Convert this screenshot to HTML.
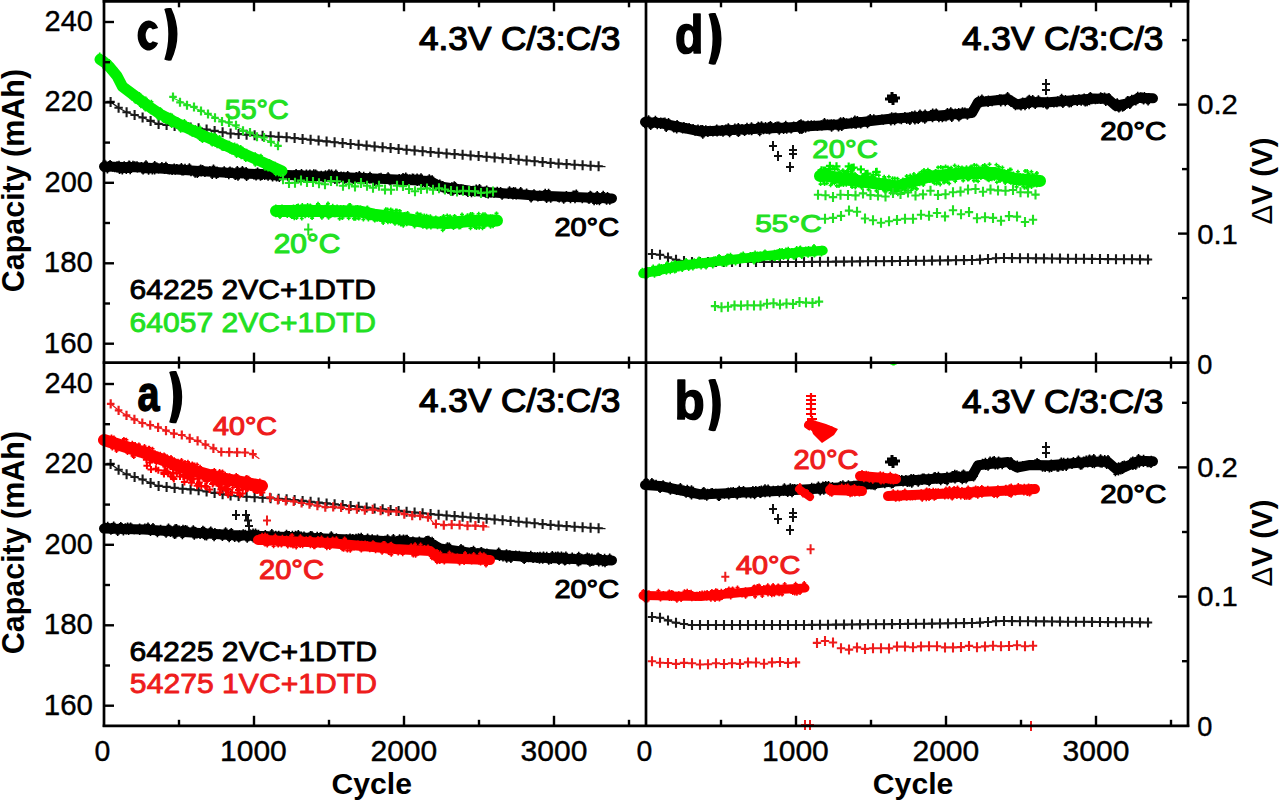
<!DOCTYPE html>
<html><head><meta charset="utf-8"><style>
html,body{margin:0;padding:0;background:#fff;width:1280px;height:801px;overflow:hidden}
svg{display:block}
text{font-family:"Liberation Sans", sans-serif;font-kerning:none}
</style></head><body>
<svg width="1280" height="801" viewBox="0 0 1280 801">
<rect width="1280" height="801" fill="#fff"/>
<polyline points="104,166.5 144,167.5 231,173 275,174.6 362,178 430,181 440,186.5 470,190.7 535,195.5 612,198.4" fill="none" stroke="#000" stroke-width="10" stroke-linejoin="round" stroke-linecap="round" />
<path d="M102.5 161.4h4M104.5 159.4v4M101.9 170.7h4M103.9 168.7v4M107.1 163.5h4M109.1 161.5v4M105.4 171.5h4M107.4 169.5v4M108.1 161.9h4M110.1 159.9v4M110.9 169.8h4M112.9 167.8v4M112.8 170.3h4M114.8 168.3v4M115.1 163.3h4M117.1 161.3v4M114.7 170.4h4M116.7 168.4v4M117 162.7h4M119 160.7v4M117.5 172h4M119.5 170v4M120.3 172.4h4M122.3 170.4v4M122.2 163.2h4M124.2 161.2v4M124.3 172.1h4M126.3 170.1v4M127 162.6h4M129 160.6v4M127.5 162.7h4M129.5 160.7v4M128.2 172.2h4M130.2 170.2v4M131 162.8h4M133 160.8v4M132.8 163.2h4M134.8 161.2v4M135 163.3h4M137 161.3v4M135.4 170.4h4M137.4 168.4v4M139.4 164h4M141.4 162v4M141.1 172.6h4M143.1 170.6v4M144 162.2h4M146 160.2v4M143.9 171.3h4M145.9 169.3v4M146.6 172.7h4M148.6 170.7v4M150.3 172.4h4M152.3 170.4v4M152.7 163h4M154.7 161v4M152.6 172.4h4M154.6 170.4v4M154.9 164.4h4M156.9 162.4v4M156.5 171.5h4M158.5 169.5v4M159.9 164.1h4M161.9 162.1v4M163.9 163.8h4M165.9 161.8v4M162.6 171.9h4M164.6 169.9v4M166 172.3h4M168 170.3v4M167.3 166h4M169.3 164v4M167.5 172.6h4M169.5 170.6v4M170.1 173.1h4M172.1 171.1v4M172.2 165.5h4M174.2 163.5v4M173.2 172.7h4M175.2 170.7v4M174.8 166h4M176.8 164v4M176.1 166.7h4M178.1 164.7v4M179.4 165.1h4M181.4 163.1v4M180 173.4h4M182 171.4v4M181.5 173.5h4M183.5 171.5v4M183 165.7h4M185 163.7v4M186.5 166.5h4M188.5 164.5v4M187.4 165.2h4M189.4 163.2v4M189 174.2h4M191 172.2v4M193.1 175.7h4M195.1 173.7v4M195.3 176h4M197.3 174v4M196.3 174.9h4M198.3 172.9v4M198.7 166.4h4M200.7 164.4v4M199.1 174.4h4M201.1 172.4v4M200.7 167h4M202.7 165v4M202.9 174.9h4M204.9 172.9v4M207.9 168.1h4M209.9 166.1v4M210.2 177h4M212.2 175v4M211.5 166.5h4M213.5 164.5v4M215 168.6h4M217 166.6v4M214.4 177h4M216.4 175v4M216 176.1h4M218 174.1v4M222.2 168.2h4M224.2 166.2v4M223.7 175.8h4M225.7 173.8v4M228 168.4h4M230 166.4v4M226.8 177.3h4M228.8 175.3v4M230.4 169.4h4M232.4 167.4v4M232.4 176.8h4M234.4 174.8v4M233.2 177.9h4M235.2 175.9v4M235.3 168h4M237.3 166v4M236 178.7h4M238 176.7v4M237.9 169.9h4M239.9 167.9v4M240.4 168.1h4M242.4 166.1v4M242.8 177.1h4M244.8 175.1v4M244.1 169h4M246.1 167v4M244.6 179h4M246.6 177v4M246.3 177.4h4M248.3 175.4v4M251.8 177.4h4M253.8 175.4v4M254.1 178.6h4M256.1 176.6v4M255.6 169.6h4M257.6 167.6v4M255.6 177.2h4M257.6 175.2v4M258.5 178.7h4M260.5 176.7v4M260.1 177.9h4M262.1 175.9v4M263.4 169.1h4M265.4 167.1v4M262.7 178.1h4M264.7 176.1v4M266.5 171.3h4M268.5 169.3v4M266.1 178.8h4M268.1 176.8v4M268.8 169.9h4M270.8 167.9v4M270.7 169.4h4M272.7 167.4v4M270.6 179.5h4M272.6 177.5v4M274.6 179.6h4M276.6 177.6v4M275.8 178h4M277.8 176v4M277.3 180h4M279.3 178v4M281 178.7h4M283 176.7v4M286.1 179.2h4M288.1 177.2v4M292.1 172.2h4M294.1 170.2v4M294.1 171h4M296.1 169v4M293.1 179.4h4M295.1 177.4v4M295.9 172.4h4M297.9 170.4v4M294.7 179.9h4M296.7 177.9v4M297.1 172.2h4M299.1 170.2v4M297.6 180.6h4M299.6 178.6v4M299.5 171.1h4M301.5 169.1v4M300 180h4M302 178v4M302.7 180.5h4M304.7 178.5v4M304.4 171.6h4M306.4 169.6v4M304.5 179.9h4M306.5 177.9v4M307.9 171.4h4M309.9 169.4v4M309.6 180.3h4M311.6 178.3v4M311.8 171.2h4M313.8 169.2v4M311.7 180.8h4M313.7 178.8v4M313.7 171.4h4M315.7 169.4v4M319.2 172.8h4M321.2 170.8v4M322.4 181.2h4M324.4 179.2v4M323.5 172.3h4M325.5 170.3v4M327 171.2h4M329 169.2v4M329.5 171.5h4M331.5 169.5v4M329.3 181.7h4M331.3 179.7v4M333.9 171.6h4M335.9 169.6v4M332.9 182h4M334.9 180v4M334.5 173.2h4M336.5 171.2v4M337.2 181.6h4M339.2 179.6v4M339.1 173.5h4M341.1 171.5v4M341.7 173.8h4M343.7 171.8v4M342 181.9h4M344 179.9v4M344.1 181.1h4M346.1 179.1v4M345.7 173h4M347.7 171v4M351.3 181.9h4M353.3 179.9v4M354.2 174.1h4M356.2 172.1v4M357.3 173h4M359.3 171v4M361.7 173.8h4M363.7 171.8v4M361.3 182.3h4M363.3 180.3v4M363.7 175.2h4M365.7 173.2v4M363.6 181.9h4M365.6 179.9v4M368 173.7h4M370 171.7v4M367.8 181.4h4M369.8 179.4v4M372.5 184h4M374.5 182v4M375.8 183.5h4M377.8 181.5v4M377.2 175.3h4M379.2 173.3v4M376 182.6h4M378 180.6v4M379 174.8h4M381 172.8v4M386.1 174.3h4M388.1 172.3v4M388.3 183.8h4M390.3 181.8v4M397.2 176h4M399.2 174v4M399.7 176.3h4M401.7 174.3v4M398.1 183.9h4M400.1 181.9v4M401 175h4M403 173v4M400.2 184.5h4M402.2 182.5v4M403.8 174.5h4M405.8 172.5v4M403.6 184.6h4M405.6 182.6v4M406.4 176.5h4M408.4 174.5v4M406.3 183.2h4M408.3 181.2v4M407.8 176.2h4M409.8 174.2v4M410.4 175.6h4M412.4 173.6v4M411.7 175.8h4M413.7 173.8v4M415.1 175.4h4M417.1 173.4v4M415.3 184h4M417.3 182v4M419 175.3h4M421 173.3v4M419.3 184.7h4M421.3 182.7v4M420.3 185.3h4M422.3 183.3v4M423.7 186.1h4M425.7 184.1v4M424.7 185.2h4M426.7 183.2v4M427.3 176.2h4M429.3 174.2v4M430.2 177.2h4M432.2 175.2v4M429.6 185.3h4M431.6 183.3v4M431.4 180h4M433.4 178v4M432.8 187.7h4M434.8 185.7v4M434.6 181.3h4M436.6 179.3v4M437.8 181.5h4M439.8 179.5v4M440.8 182.9h4M442.8 180.9v4M440.3 190.3h4M442.3 188.3v4M442.4 191.6h4M444.4 189.6v4M446 192h4M448 190v4M448.1 192.8h4M450.1 190.8v4M449.8 184.2h4M451.8 182.2v4M452.3 183.2h4M454.3 181.2v4M450.8 193.7h4M452.8 191.7v4M453.1 184.1h4M455.1 182.1v4M453.9 192.1h4M455.9 190.1v4M459.1 186.2h4M461.1 184.2v4M457.6 193h4M459.6 191v4M460.9 186.6h4M462.9 184.6v4M465.9 194.9h4M467.9 192.9v4M468.1 193.7h4M470.1 191.7v4M469.5 195.3h4M471.5 193.3v4M471.3 187.8h4M473.3 185.8v4M472.4 194.5h4M474.4 192.5v4M474.2 186.5h4M476.2 184.5v4M477.5 186h4M479.5 184v4M483.2 188.6h4M485.2 186.6v4M483.6 195.7h4M485.6 193.7v4M484.7 187.6h4M486.7 185.6v4M485.2 195.9h4M487.2 193.9v4M486.2 196.4h4M488.2 194.4v4M489 195.4h4M491 193.4v4M492 195.8h4M494 193.8v4M495.3 188.7h4M497.3 186.7v4M498.6 189.1h4M500.6 187.1v4M500.1 197.7h4M502.1 195.7v4M507.5 188.3h4M509.5 186.3v4M506.5 197h4M508.5 195v4M508.7 190.5h4M510.7 188.5v4M511.5 188.9h4M513.5 186.9v4M510.9 197.6h4M512.9 195.6v4M513.4 189.2h4M515.4 187.2v4M514.2 197.4h4M516.2 195.4v4M514.7 190.4h4M516.7 188.4v4M518.7 189.1h4M520.7 187.1v4M524.6 190.6h4M526.6 188.6v4M529.1 200.5h4M531.1 198.5v4M532 191.2h4M534 189.2v4M530.3 198.8h4M532.3 196.8v4M535.9 199.6h4M537.9 197.6v4M537.7 192.4h4M539.7 190.4v4M537.1 198.9h4M539.1 196.9v4M538.9 199h4M540.9 197v4M543.2 190.8h4M545.2 188.8v4M544.6 201h4M546.6 199v4M546.6 190.8h4M548.6 188.8v4M548.7 200.8h4M550.7 198.8v4M555.7 199.8h4M557.7 197.8v4M557.2 200.6h4M559.2 198.6v4M561.7 201.7h4M563.7 199.7v4M564.4 192.9h4M566.4 190.9v4M563.6 200h4M565.6 198v4M568.5 201.3h4M570.5 199.3v4M571.2 192.6h4M573.2 190.6v4M572.4 192.4h4M574.4 190.4v4M573 201.3h4M575 199.3v4M574.3 191.6h4M576.3 189.6v4M580.3 201.3h4M582.3 199.3v4M586.6 201.7h4M588.6 199.7v4M588.2 192.7h4M590.2 190.7v4M587.4 201.7h4M589.4 199.7v4M589.4 193.6h4M591.4 191.6v4M591.1 201.3h4M593.1 199.3v4M592.1 203.2h4M594.1 201.2v4M595.2 193h4M597.2 191v4M594.8 202.8h4M596.8 200.8v4M597.4 203.3h4M599.4 201.3v4M600.1 194.7h4M602.1 192.7v4M598.7 201.1h4M600.7 199.1v4M601.2 192.7h4M603.2 190.7v4M604.6 202.7h4M606.6 200.7v4M605.5 193.9h4M607.5 191.9v4M607.8 202.7h4M609.8 200.7v4" stroke="#000" stroke-width="1.6" fill="none"/>
<polyline points="110.6,101.9 119,108 127,112.5 142.5,117.5 157.5,123.8 175,126 200,128.3 228,133.3 255,135.3 289,137.5 370,146 435,152.5 501,158 556,163.4 605,166.7" fill="none" stroke="#1a1a1a" stroke-width="1.3" stroke-linejoin="round" stroke-linecap="round" />
<path d="M106.4 101.9h8.4M110.6 96.9v10M114.4 107.7h8.4M118.6 102.7v10M122.4 112.3h8.4M126.6 107.3v10M130.4 115h8.4M134.6 110v10M138.4 117.5h8.4M142.6 112.5v10M146.4 120.9h8.4M150.6 115.9v10M154.4 123.9h8.4M158.6 118.9v10M162.4 124.9h8.4M166.6 119.9v10M170.4 125.9h8.4M174.6 120.9v10M178.4 126.7h8.4M182.6 121.7v10M186.4 127.4h8.4M190.6 122.4v10M194.4 128.2h8.4M198.6 123.2v10M202.4 129.5h8.4M206.6 124.5v10M210.4 130.9h8.4M214.6 125.9v10M218.4 132.3h8.4M222.6 127.3v10M226.4 133.5h8.4M230.6 128.5v10M234.4 134.1h8.4M238.6 129.1v10M242.4 134.7h8.4M246.6 129.7v10M250.4 135.3h8.4M254.6 130.3v10M258.4 135.8h8.4M262.6 130.8v10M266.4 136.3h8.4M270.6 131.3v10M274.4 136.8h8.4M278.6 131.8v10M282.4 137.3h8.4M286.6 132.3v10M290.4 138.1h8.4M294.6 133.1v10M298.4 138.9h8.4M302.6 133.9v10M306.4 139.8h8.4M310.6 134.8v10M314.4 140.6h8.4M318.6 135.6v10M322.4 141.4h8.4M326.6 136.4v10M330.4 142.3h8.4M334.6 137.3v10M338.4 143.1h8.4M342.6 138.1v10M346.4 144h8.4M350.6 139v10M354.4 144.8h8.4M358.6 139.8v10M362.4 145.6h8.4M366.6 140.6v10M370.4 146.5h8.4M374.6 141.5v10M378.4 147.3h8.4M382.6 142.3v10M386.4 148.1h8.4M390.6 143.1v10M394.4 148.9h8.4M398.6 143.9v10M402.4 149.7h8.4M406.6 144.7v10M410.4 150.5h8.4M414.6 145.5v10M418.4 151.3h8.4M422.6 146.3v10M426.4 152.1h8.4M430.6 147.1v10M434.4 152.8h8.4M438.6 147.8v10M442.4 153.5h8.4M446.6 148.5v10M450.4 154.1h8.4M454.6 149.1v10M458.4 154.8h8.4M462.6 149.8v10M466.4 155.5h8.4M470.6 150.5v10M474.4 156.1h8.4M478.6 151.1v10M482.4 156.8h8.4M486.6 151.8v10M490.4 157.5h8.4M494.6 152.5v10M498.4 158.2h8.4M502.6 153.2v10M506.4 158.9h8.4M510.6 153.9v10M514.4 159.7h8.4M518.6 154.7v10M522.4 160.5h8.4M526.6 155.5v10M530.4 161.3h8.4M534.6 156.3v10M538.4 162.1h8.4M542.6 157.1v10M546.4 162.9h8.4M550.6 157.9v10M554.4 163.6h8.4M558.6 158.6v10M562.4 164.1h8.4M566.6 159.1v10M570.4 164.7h8.4M574.6 159.7v10M578.4 165.2h8.4M582.6 160.2v10M586.4 165.7h8.4M590.6 160.7v10M594.4 166.3h8.4M598.6 161.3v10" stroke="#1a1a1a" stroke-width="2.1" fill="none"/>
<polyline points="104,528.5 144,529.5 231,535 275,536.6 362,540 430,543 440,548.5 470,552.7 535,557.5 612,560.4" fill="none" stroke="#000" stroke-width="10" stroke-linejoin="round" stroke-linecap="round" />
<path d="M103.4 524.8h4M105.4 522.8v4M105.7 523.7h4M107.7 521.7v4M109.2 525.1h4M111.2 523.1v4M108.9 532.8h4M110.9 530.8v4M111.7 523.6h4M113.7 521.6v4M110.5 532.1h4M112.5 530.1v4M115.7 534h4M117.7 532v4M118.3 525.4h4M120.3 523.4v4M118.8 523.9h4M120.8 521.9v4M121.4 533.4h4M123.4 531.4v4M123.3 525.2h4M125.3 523.2v4M124.3 532.4h4M126.3 530.4v4M125.6 524.5h4M127.6 522.5v4M126.6 533.1h4M128.6 531.1v4M128.6 524.4h4M130.6 522.4v4M132.2 532.3h4M134.2 530.3v4M137.6 525.6h4M139.6 523.6v4M137.7 533h4M139.7 531v4M142.9 525.6h4M144.9 523.6v4M146 524.5h4M148 522.5v4M148.5 534.1h4M150.5 532.1v4M151 525h4M153 523v4M149.5 533.1h4M151.5 531.1v4M155.4 535.3h4M157.4 533.3v4M156.4 533.5h4M158.4 531.5v4M158.6 526.7h4M160.6 524.7v4M162.3 534.1h4M164.3 532.1v4M164.1 535.8h4M166.1 533.8v4M166.5 525.6h4M168.5 523.6v4M164.9 534.2h4M166.9 532.2v4M168.8 527.6h4M170.8 525.6v4M168.5 535.1h4M170.5 533.1v4M173.1 526.2h4M175.1 524.2v4M172.5 536.9h4M174.5 534.9v4M174.5 526.1h4M176.5 524.1v4M173.7 536.5h4M175.7 534.5v4M177.4 527.4h4M179.4 525.4v4M181 526.7h4M183 524.7v4M180.4 537.3h4M182.4 535.3v4M183.3 527.1h4M185.3 525.1v4M185 527.5h4M187 525.5v4M191.3 527.3h4M193.3 525.3v4M192.3 537.8h4M194.3 535.8v4M193.7 529.1h4M195.7 527.1v4M195 536.4h4M197 534.4v4M199.7 529.8h4M201.7 527.8v4M198.1 536.9h4M200.1 534.9v4M200.9 527.8h4M202.9 525.8v4M202.5 528.8h4M204.5 526.8v4M202.7 538.3h4M204.7 536.3v4M204.5 538.5h4M206.5 536.5v4M208 529.6h4M210 527.6v4M208.8 528.6h4M210.8 526.6v4M212.9 529.9h4M214.9 527.9v4M212.1 539.3h4M214.1 537.3v4M217.7 531.2h4M219.7 529.2v4M220.4 539h4M222.4 537v4M223.6 529.3h4M225.6 527.3v4M225.2 538h4M227.2 536v4M228.1 531.3h4M230.1 529.3v4M227.2 540.3h4M229.2 538.3v4M229.3 529.9h4M231.3 527.9v4M232.7 539.9h4M234.7 537.9v4M236.8 540.6h4M238.8 538.6v4M237.6 532.2h4M239.6 530.2v4M238.8 538.9h4M240.8 536.9v4M241.2 531.2h4M243.2 529.2v4M239.9 538.5h4M241.9 536.5v4M243.3 531.8h4M245.3 529.8v4M245.2 540.8h4M247.2 538.8v4M248.1 531.3h4M250.1 529.3v4M246.8 539.2h4M248.8 537.2v4M251.1 530.5h4M253.1 528.5v4M251.3 540.4h4M253.3 538.4v4M253.5 530.6h4M255.5 528.6v4M256.5 531.8h4M258.5 529.8v4M256.9 539.8h4M258.9 537.8v4M257.5 539.9h4M259.5 537.9v4M259.5 533h4M261.5 531v4M261.2 540.5h4M263.2 538.5v4M263.3 532h4M265.3 530v4M264.9 541.1h4M266.9 539.1v4M266.2 539.4h4M268.2 537.4v4M269.8 531h4M271.8 529v4M269.1 541.1h4M271.1 539.1v4M271.2 540.1h4M273.2 538.1v4M273.7 532.8h4M275.7 530.8v4M276.7 532.7h4M278.7 530.7v4M281.8 540.5h4M283.8 538.5v4M284.5 531.8h4M286.5 529.8v4M287.2 533h4M289.2 531v4M286.2 541.8h4M288.2 539.8v4M290.4 532.7h4M292.4 530.7v4M291.6 540.9h4M293.6 538.9v4M293.4 532.8h4M295.4 530.8v4M296.3 532.1h4M298.3 530.1v4M299.3 533.5h4M301.3 531.5v4M299.6 542.6h4M301.6 540.6v4M302 533.5h4M304 531.5v4M302.6 541.6h4M304.6 539.6v4M306.3 534.8h4M308.3 532.8v4M306.7 543h4M308.7 541v4M308.5 533.1h4M310.5 531.1v4M310.1 533.3h4M312.1 531.3v4M313.9 535.2h4M315.9 533.2v4M312.7 542.9h4M314.7 540.9v4M315.2 533.8h4M317.2 531.8v4M316.3 543h4M318.3 541v4M318.4 534h4M320.4 532v4M319 533.9h4M321 531.9v4M322.2 542.9h4M324.2 540.9v4M329.3 533.3h4M331.3 531.3v4M330.4 544.3h4M332.4 542.3v4M332.3 542.6h4M334.3 540.6v4M334.4 535.2h4M336.4 533.2v4M339.3 543.6h4M341.3 541.6v4M342.3 544.5h4M344.3 542.5v4M344.4 536.2h4M346.4 534.2v4M346 543.6h4M348 541.6v4M348 535.6h4M350 533.6v4M348.2 544.7h4M350.2 542.7v4M350.8 536h4M352.8 534v4M352.8 543.4h4M354.8 541.4v4M354 535.8h4M356 533.8v4M355.2 544.5h4M357.2 542.5v4M356.5 535.2h4M358.5 533.2v4M359.2 534.7h4M361.2 532.7v4M358.6 545.1h4M360.6 543.1v4M360.8 543.7h4M362.8 541.7v4M365.6 535.6h4M367.6 533.6v4M368 543.8h4M370 541.8v4M370.2 536.2h4M372.2 534.2v4M370.1 544.3h4M372.1 542.3v4M372.8 537.4h4M374.8 535.4v4M375.4 536.5h4M377.4 534.5v4M374.2 544h4M376.2 542v4M380 545.6h4M382 543.6v4M382.7 537.7h4M384.7 535.7v4M385.6 536.3h4M387.6 534.3v4M385.5 544.9h4M387.5 542.9v4M388.1 546.1h4M390.1 544.1v4M390.1 544.6h4M392.1 542.6v4M391.4 536h4M393.4 534v4M394.9 538h4M396.9 536v4M395.2 545.3h4M397.2 543.3v4M397.6 536.2h4M399.6 534.2v4M397.7 546.3h4M399.7 544.3v4M401.5 536.4h4M403.5 534.4v4M404.2 536.7h4M406.2 534.7v4M402.4 547h4M404.4 545v4M405.2 536.8h4M407.2 534.8v4M405.4 545h4M407.4 543v4M410.9 538.4h4M412.9 536.4v4M411.8 547.4h4M413.8 545.4v4M417.3 538.6h4M419.3 536.6v4M417 546.8h4M419 544.8v4M419.3 546.6h4M421.3 544.6v4M421.8 547.5h4M423.8 545.5v4M424.1 538h4M426.1 536v4M425.7 537.7h4M427.7 535.7v4M425.3 546.4h4M427.3 544.4v4M426.9 537.8h4M428.9 535.8v4M430.1 538.8h4M432.1 536.8v4M429 547.4h4M431 545.4v4M431.2 540.6h4M433.2 538.6v4M432 549.5h4M434 547.5v4M433.5 542h4M435.5 540v4M434.9 551.8h4M436.9 549.8v4M441 552.5h4M443 550.5v4M445.4 544.3h4M447.4 542.3v4M447.3 544.6h4M449.3 542.6v4M450.3 554.1h4M452.3 552.1v4M455.7 556.1h4M457.7 554.1v4M459 546h4M461 544v4M459.1 556.4h4M461.1 554.4v4M461.3 547.6h4M463.3 545.6v4M467.6 558h4M469.6 556v4M469 548.9h4M471 546.9v4M469.2 557.7h4M471.2 555.7v4M471.5 547.7h4M473.5 545.7v4M472.1 556.7h4M474.1 554.7v4M475.9 550.2h4M477.9 548.2v4M478.6 549.4h4M480.6 547.4v4M479.1 556.7h4M481.1 554.7v4M479.5 549h4M481.5 547v4M480 557.3h4M482 555.3v4M481.8 550.4h4M483.8 548.4v4M482.6 557.5h4M484.6 555.5v4M484.9 550.4h4M486.9 548.4v4M488.4 558.4h4M490.4 556.4v4M496.7 549.5h4M498.7 547.5v4M497.1 551.3h4M499.1 549.3v4M497.5 559.1h4M499.5 557.1v4M501 559.4h4M503 557.4v4M504.5 551.2h4M506.5 549.2v4M504.7 560.8h4M506.7 558.8v4M507.5 552.3h4M509.5 550.3v4M506.1 559.5h4M508.1 557.5v4M508.1 552.4h4M510.1 550.4v4M508.9 561h4M510.9 559v4M513.7 552.4h4M515.7 550.4v4M517.3 552.8h4M519.3 550.8v4M519.6 560.1h4M521.6 558.1v4M522.2 562.1h4M524.2 560.1v4M523.6 553.8h4M525.6 551.8v4M524.6 560h4M526.6 558v4M526.4 560.3h4M528.4 558.3v4M528.8 552.8h4M530.8 550.8v4M531.1 561.1h4M533.1 559.1v4M532.9 554.3h4M534.9 552.3v4M535.5 553.9h4M537.5 551.9v4M535 561h4M537 559v4M538 553.7h4M540 551.7v4M537.5 561.7h4M539.5 559.7v4M540.7 561.8h4M542.7 559.8v4M541.5 553.6h4M543.5 551.6v4M544.8 553.8h4M546.8 551.8v4M546.8 562.7h4M548.8 560.7v4M549.3 561.9h4M551.3 559.9v4M550.3 553.1h4M552.3 551.1v4M553.6 553.7h4M555.6 551.7v4M555.9 553.4h4M557.9 551.4v4M556.2 561.9h4M558.2 559.9v4M557 563h4M559 561v4M559.4 553.5h4M561.4 551.5v4M561.4 554.4h4M563.4 552.4v4M562.8 563.6h4M564.8 561.6v4M563.9 553.5h4M565.9 551.5v4M563.4 563.1h4M565.4 561.1v4M566.1 562h4M568.1 560v4M567.5 562.4h4M569.5 560.4v4M570.2 554.5h4M572.2 552.5v4M572.1 555.8h4M574.1 553.8v4M575.5 555.5h4M577.5 553.5v4M576.7 553.8h4M578.7 551.8v4M576.4 564.6h4M578.4 562.6v4M579.6 555.8h4M581.6 553.8v4M578.7 563.2h4M580.7 561.2v4M583 556.2h4M585 554.2v4M585.3 554.6h4M587.3 552.6v4M585.9 563h4M587.9 561v4M587.3 555.2h4M589.3 553.2v4M588 564.8h4M590 562.8v4M589.9 555.6h4M591.9 553.6v4M589.8 564.1h4M591.8 562.1v4M592.8 556.7h4M594.8 554.7v4M591.6 563.8h4M593.6 561.8v4M596.1 554.4h4M598.1 552.4v4M596.8 564.5h4M598.8 562.5v4M598.9 556.1h4M600.9 554.1v4M600.6 564.5h4M602.6 562.5v4M602.6 555.8h4M604.6 553.8v4M603 565.2h4M605 563.2v4M605.2 563.6h4M607.2 561.6v4M607.7 555.5h4M609.7 553.5v4" stroke="#000" stroke-width="1.6" fill="none"/>
<polyline points="110.6,463.9 119,470 127,474.5 142.5,479.5 157.5,485.8 175,488 200,490.3 228,495.3 255,497.3 289,499.5 370,508 435,514.5 501,520 556,525.4 605,528.7" fill="none" stroke="#1a1a1a" stroke-width="1.3" stroke-linejoin="round" stroke-linecap="round" />
<path d="M106.4 463.9h8.4M110.6 458.9v10M114.4 469.7h8.4M118.6 464.7v10M122.4 474.3h8.4M126.6 469.3v10M130.4 477h8.4M134.6 472v10M138.4 479.5h8.4M142.6 474.5v10M146.4 482.9h8.4M150.6 477.9v10M154.4 485.9h8.4M158.6 480.9v10M162.4 486.9h8.4M166.6 481.9v10M170.4 487.9h8.4M174.6 482.9v10M178.4 488.7h8.4M182.6 483.7v10M186.4 489.4h8.4M190.6 484.4v10M194.4 490.2h8.4M198.6 485.2v10M202.4 491.5h8.4M206.6 486.5v10M210.4 492.9h8.4M214.6 487.9v10M218.4 494.3h8.4M222.6 489.3v10M226.4 495.5h8.4M230.6 490.5v10M234.4 496.1h8.4M238.6 491.1v10M242.4 496.7h8.4M246.6 491.7v10M250.4 497.3h8.4M254.6 492.3v10M258.4 497.8h8.4M262.6 492.8v10M266.4 498.3h8.4M270.6 493.3v10M274.4 498.8h8.4M278.6 493.8v10M282.4 499.3h8.4M286.6 494.3v10M290.4 500.1h8.4M294.6 495.1v10M298.4 500.9h8.4M302.6 495.9v10M306.4 501.8h8.4M310.6 496.8v10M314.4 502.6h8.4M318.6 497.6v10M322.4 503.4h8.4M326.6 498.4v10M330.4 504.3h8.4M334.6 499.3v10M338.4 505.1h8.4M342.6 500.1v10M346.4 506h8.4M350.6 501v10M354.4 506.8h8.4M358.6 501.8v10M362.4 507.6h8.4M366.6 502.6v10M370.4 508.5h8.4M374.6 503.5v10M378.4 509.3h8.4M382.6 504.3v10M386.4 510.1h8.4M390.6 505.1v10M394.4 510.9h8.4M398.6 505.9v10M402.4 511.7h8.4M406.6 506.7v10M410.4 512.5h8.4M414.6 507.5v10M418.4 513.3h8.4M422.6 508.3v10M426.4 514.1h8.4M430.6 509.1v10M434.4 514.8h8.4M438.6 509.8v10M442.4 515.5h8.4M446.6 510.5v10M450.4 516.1h8.4M454.6 511.1v10M458.4 516.8h8.4M462.6 511.8v10M466.4 517.5h8.4M470.6 512.5v10M474.4 518.1h8.4M478.6 513.1v10M482.4 518.8h8.4M486.6 513.8v10M490.4 519.5h8.4M494.6 514.5v10M498.4 520.2h8.4M502.6 515.2v10M506.4 520.9h8.4M510.6 515.9v10M514.4 521.7h8.4M518.6 516.7v10M522.4 522.5h8.4M526.6 517.5v10M530.4 523.3h8.4M534.6 518.3v10M538.4 524.1h8.4M542.6 519.1v10M546.4 524.9h8.4M550.6 519.9v10M554.4 525.6h8.4M558.6 520.6v10M562.4 526.1h8.4M566.6 521.1v10M570.4 526.7h8.4M574.6 521.7v10M578.4 527.2h8.4M582.6 522.2v10M586.4 527.7h8.4M590.6 522.7v10M594.4 528.3h8.4M598.6 523.3v10" stroke="#1a1a1a" stroke-width="2.1" fill="none"/>
<polyline points="100,59.5 106,63.5 110,67.5 117,76 122.5,86.6 135,96 147.5,105.5 160,114 180,124.5 200,134 220,143 240,152 260,161 282,171" fill="none" stroke="#00f000" stroke-width="11" stroke-linejoin="round" stroke-linecap="round" />
<path d="M97.7 54.6h4M99.7 52.6v4M100.9 64.5h4M102.9 62.5v4M103.4 58.3h4M105.4 56.3v4M102.4 68h4M104.4 66v4M105.3 69.2h4M107.3 67.2v4M107.1 60.9h4M109.1 58.9v4M107 71.7h4M109 69.7v4M109.7 65.1h4M111.7 63.1v4M109.8 74h4M111.8 72v4M113.3 68.6h4M115.3 66.6v4M115 81h4M117 79v4M117.4 86.5h4M119.4 84.5v4M119.7 81.2h4M121.7 79.2v4M129.7 98.5h4M131.7 96.5v4M133.3 101.7h4M135.3 99.7v4M136.1 94.2h4M138.1 92.2v4M137.4 94h4M139.4 92v4M138.1 103.7h4M140.1 101.7v4M138.9 106.2h4M140.9 104.2v4M143 108.5h4M145 106.5v4M143.8 98.5h4M145.8 96.5v4M143.3 109.5h4M145.3 107.5v4M146.6 101.6h4M148.6 99.6v4M147.1 109.7h4M149.1 107.7v4M149.4 101.7h4M151.4 99.7v4M148.6 112.3h4M150.6 110.3v4M155.6 116.7h4M157.6 114.7v4M158.4 109.3h4M160.4 107.3v4M156.4 118.5h4M158.4 116.5v4M158.6 109.9h4M160.6 107.9v4M161.7 121.1h4M163.7 119.1v4M164.5 122.4h4M166.5 120.4v4M166.6 114.7h4M168.6 112.7v4M168.6 114.8h4M170.6 112.8v4M168 123.9h4M170 121.9v4M170.2 115.6h4M172.2 113.6v4M169.7 126h4M171.7 124v4M175.6 118.9h4M177.6 116.9v4M174.9 126.9h4M176.9 124.9v4M176.9 128.4h4M178.9 126.4v4M178.7 130.8h4M180.7 128.8v4M182.4 121.1h4M184.4 119.1v4M180.8 130.3h4M182.8 128.3v4M184.4 123.3h4M186.4 121.3v4M186.6 124.1h4M188.6 122.1v4M187.8 133.2h4M189.8 131.2v4M190.2 134.8h4M192.2 132.8v4M193.4 126.9h4M195.4 124.9v4M193.5 134.9h4M195.5 132.9v4M197.9 127.6h4M199.9 125.6v4M197.7 138.9h4M199.7 136.9v4M198.9 138.8h4M200.9 136.8v4M201.6 131.9h4M203.6 129.9v4M200.5 141.1h4M202.5 139.1v4M209.5 134.1h4M211.5 132.1v4M210.2 144.6h4M212.2 142.6v4M212.6 134.6h4M214.6 132.6v4M213.1 144.6h4M215.1 142.6v4M214.3 136h4M216.3 134v4M215.2 146.3h4M217.2 144.3v4M217.6 137h4M219.6 135v4M219.7 148.5h4M221.7 146.5v4M220.7 140.3h4M222.7 138.3v4M221.1 149h4M223.1 147v4M222.7 149.1h4M224.7 147.1v4M226.5 142.7h4M228.5 140.7v4M227.4 142.7h4M229.4 140.7v4M228.1 151.8h4M230.1 149.8v4M229.7 152.4h4M231.7 150.4v4M232.6 144.5h4M234.6 142.5v4M231.6 153.1h4M233.6 151.1v4M235 145.4h4M237 143.4v4M234.6 155.9h4M236.6 153.9v4M236.6 146.9h4M238.6 144.9v4M238.7 147.1h4M240.7 145.1v4M239.2 157.2h4M241.2 155.2v4M240.9 148.8h4M242.9 146.8v4M243.8 160.1h4M245.8 158.1v4M244.6 150.7h4M246.6 148.7v4M253.2 154.3h4M255.2 152.3v4M253.3 164.7h4M255.3 162.7v4M257.2 156.5h4M259.2 154.5v4M257.1 163.8h4M259.1 161.8v4M258.9 155.7h4M260.9 153.7v4M263 168.7h4M265 166.7v4M266.1 169.6h4M268.1 167.6v4M267.5 161h4M269.5 159v4M269.1 162.3h4M271.1 160.3v4M271.6 171.7h4M273.6 169.7v4M273.2 163.7h4M275.2 161.7v4M273.8 174.2h4M275.8 172.2v4M276.7 174.5h4M278.7 172.5v4M278.7 175h4M280.7 173v4" stroke="#00f000" stroke-width="1.6" fill="none"/>
<polyline points="173,98 223,121 280,146" fill="none" stroke="#22e022" stroke-width="1.2" stroke-linejoin="round" stroke-linecap="round" />
<path d="M169.2 96.9h7.6M173 92.4v9M176.2 102.3h7.6M180 97.8v9M183.2 105.2h7.6M187 100.7v9M190.2 106.9h7.6M194 102.4v9M197.2 110.9h7.6M201 106.4v9M204.2 113.9h7.6M208 109.4v9M211.2 117.8h7.6M215 113.3v9M218.2 121.4h7.6M222 116.9v9M225.2 122.4h7.6M229 117.9v9M232.2 125.3h7.6M236 120.8v9M239.2 130.8h7.6M243 126.3v9M246.2 132.6h7.6M250 128.1v9M253.2 136.7h7.6M257 132.2v9M260.2 137.5h7.6M264 133v9M267.2 141.9h7.6M271 137.4v9M274.2 145.8h7.6M278 141.3v9" stroke="#22e022" stroke-width="2.2" fill="none"/>
<path d="M304 229.5h8.6M308.3 223.5v12" stroke="#22e022" stroke-width="2.0" fill="none"/>
<path d="M278.8 179.2h8.4M283 174.2v10M284.8 183h8.4M289 178v10M290.8 182.8h8.4M295 177.8v10M296.8 180.5h8.4M301 175.5v10M302.8 182h8.4M307 177v10M308.8 182h8.4M313 177v10M314.8 183.3h8.4M319 178.3v10M320.8 184.2h8.4M325 179.2v10M326.8 181.1h8.4M331 176.1v10M332.8 181.2h8.4M337 176.2v10M338.8 185.8h8.4M343 180.8v10M344.8 184.2h8.4M349 179.2v10M350.8 186.4h8.4M355 181.4v10M356.8 183.1h8.4M361 178.1v10M362.8 185.8h8.4M367 180.8v10M368.8 187.7h8.4M373 182.7v10M374.8 185.7h8.4M379 180.7v10M380.8 189.6h8.4M385 184.6v10M386.8 189.8h8.4M391 184.8v10M392.8 185.7h8.4M397 180.7v10M398.8 186.1h8.4M403 181.1v10M404.8 189h8.4M409 184v10M410.8 191.3h8.4M415 186.3v10M416.8 188.9h8.4M421 183.9v10M422.8 188.4h8.4M427 183.4v10M428.8 189.8h8.4M433 184.8v10M434.8 188.2h8.4M439 183.2v10M440.8 189.5h8.4M445 184.5v10M446.8 191h8.4M451 186v10M452.8 191.6h8.4M457 186.6v10M458.8 190.7h8.4M463 185.7v10M464.8 191.1h8.4M469 186.1v10M470.8 191.4h8.4M475 186.4v10M476.8 192.9h8.4M481 187.9v10M482.8 192.5h8.4M487 187.5v10M488.8 191.5h8.4M493 186.5v10" stroke="#22e022" stroke-width="2.1" fill="none"/>
<polyline points="276,211 319,211 360,211.5 374,214.6 400,218 425,222 447,223 470,221 497,220.5" fill="none" stroke="#00f000" stroke-width="12" stroke-linejoin="round" stroke-linecap="round" />
<path d="M273.8 206.6h4M275.8 204.6v4M273.8 215.2h4M275.8 213.2v4M278 216.9h4M280 214.9v4M280 206.6h4M282 204.6v4M285.3 216.1h4M287.3 214.1v4M289.7 217.1h4M291.7 215.1v4M291.5 206.4h4M293.5 204.4v4M292.3 218.3h4M294.3 216.3v4M294.6 205.9h4M296.6 203.9v4M294.5 218.1h4M296.5 216.1v4M296.2 205.6h4M298.2 203.6v4M295.6 215.6h4M297.6 213.6v4M298.5 215.2h4M300.5 213.2v4M300.3 205.1h4M302.3 203.1v4M299.8 218.5h4M301.8 216.5v4M302.9 206.3h4M304.9 204.3v4M303.1 216.2h4M305.1 214.2v4M305.6 205h4M307.6 203v4M304.3 215.2h4M306.3 213.2v4M306.7 215.8h4M308.7 213.8v4M308.3 205.4h4M310.3 203.4v4M310.1 218.1h4M312.1 216.1v4M314.5 206h4M316.5 204v4M316 203.7h4M318 201.7v4M317.9 206.3h4M319.9 204.3v4M318.9 216.3h4M320.9 214.3v4M319.3 207h4M321.3 205v4M319.9 217.8h4M321.9 215.8v4M323.4 206.7h4M325.4 204.7v4M321.5 215.8h4M323.5 213.8v4M325 206.5h4M327 204.5v4M324.6 215.2h4M326.6 213.2v4M326 203.6h4M328 201.6v4M326.6 217.8h4M328.6 215.8v4M328.8 216h4M330.8 214v4M330.7 205.7h4M332.7 203.7v4M332.9 215.3h4M334.9 213.3v4M335.1 206.5h4M337.1 204.5v4M338.7 207.1h4M340.7 205.1v4M337.6 218.7h4M339.6 216.7v4M340.5 218h4M342.5 216v4M341.6 207h4M343.6 205v4M347.2 205.1h4M349.2 203.1v4M346.7 218.2h4M348.7 216.2v4M348.3 205h4M350.3 203v4M351.9 218.8h4M353.9 216.8v4M354 207.3h4M356 205.3v4M353.5 218.8h4M355.5 216.8v4M355.7 206.9h4M357.7 204.9v4M356.3 218.1h4M358.3 216.1v4M358.4 207.5h4M360.4 205.5v4M356.8 218.6h4M358.8 216.6v4M361.4 219.5h4M363.4 217.5v4M365 207.7h4M367 205.7v4M365.5 207.5h4M367.5 205.5v4M366.4 219.4h4M368.4 217.4v4M368.3 218.3h4M370.3 216.3v4M371.5 218.4h4M373.5 216.4v4M372.8 220.6h4M374.8 218.6v4M375.2 219.8h4M377.2 217.8v4M377.6 219.7h4M379.6 217.7v4M380.3 221.1h4M382.3 219.1v4M381.2 223h4M383.2 221v4M383.8 209.2h4M385.8 207.2v4M385.6 209.4h4M387.6 207.4v4M385.9 222.2h4M387.9 220.2v4M388.8 209.6h4M390.8 207.6v4M388.5 221.8h4M390.5 219.8v4M390.6 210.5h4M392.6 208.5v4M391.3 221.9h4M393.3 219.9v4M393.8 210.6h4M395.8 208.6v4M393 223.7h4M395 221.7v4M394.9 210.4h4M396.9 208.4v4M397.8 210.9h4M399.8 208.9v4M396.5 223.4h4M398.5 221.4v4M398.7 224.5h4M400.7 222.5v4M402.2 214.1h4M404.2 212.1v4M401.3 225.7h4M403.3 223.7v4M404 213.7h4M406 211.7v4M404.7 224.3h4M406.7 222.3v4M405.7 213h4M407.7 211v4M405 223.4h4M407 221.4v4M412.6 226.4h4M414.6 224.4v4M415.3 213.4h4M417.3 211.4v4M417.4 214.8h4M419.4 212.8v4M418.8 214.5h4M420.8 212.5v4M422.2 215.6h4M424.2 213.6v4M420.9 226.8h4M422.9 224.8v4M424.6 215.8h4M426.6 213.8v4M426.4 216.7h4M428.4 214.7v4M424.8 227.6h4M426.8 225.6v4M428.4 216.3h4M430.4 214.3v4M428.9 227.5h4M430.9 225.5v4M429.3 217.8h4M431.3 215.8v4M433.8 217.4h4M435.8 215.4v4M435.5 227.3h4M437.5 225.3v4M438.6 217.9h4M440.6 215.9v4M441.6 216.1h4M443.6 214.1v4M440.7 230.2h4M442.7 228.2v4M442.6 218.4h4M444.6 216.4v4M442.6 228h4M444.6 226v4M445.2 215.5h4M447.2 213.5v4M448.1 216.2h4M450.1 214.2v4M452.6 215.9h4M454.6 213.9v4M451.5 228.1h4M453.5 226.1v4M453.7 226.4h4M455.7 224.4v4M457 227.4h4M459 225.4v4M458.6 227.2h4M460.6 225.2v4M460 214.5h4M462 212.5v4M463.9 216.9h4M465.9 214.9v4M465.4 215.3h4M467.4 213.3v4M468.6 214.1h4M470.6 212.1v4M468.5 228.3h4M470.5 226.3v4M470.5 214h4M472.5 212v4M470 225.3h4M472 223.3v4M472.8 227.2h4M474.8 225.2v4M474.5 216.8h4M476.5 214.8v4M474.5 227.9h4M476.5 225.9v4M476.7 213.7h4M478.7 211.7v4M477.2 227.8h4M479.2 225.8v4M481 214.3h4M483 212.3v4M480.5 228.2h4M482.5 226.2v4M483 214.2h4M485 212.2v4M482.5 226.8h4M484.5 224.8v4M485.8 216.4h4M487.8 214.4v4M488.4 216.2h4M490.4 214.2v4M490.3 216.6h4M492.3 214.6v4M488.6 226.8h4M490.6 224.8v4M491.1 226.2h4M493.1 224.2v4M494.5 213.4h4M496.5 211.4v4" stroke="#00f000" stroke-width="1.6" fill="none"/>
<polyline points="104,440 142,452 184,468 220,478 262,486" fill="none" stroke="#ff0000" stroke-width="12" stroke-linejoin="round" stroke-linecap="round" />
<path d="M109.5 436.5h4M111.5 434.5v4M110.3 448.4h4M112.3 446.4v4M112 437.5h4M114 435.5v4M113.8 448.5h4M115.8 446.5v4M114.5 451h4M116.5 449v4M118.1 448.9h4M120.1 446.9v4M120.6 440.8h4M122.6 438.8v4M121.9 438.9h4M123.9 436.9v4M124.4 439.7h4M126.4 437.7v4M125.5 452.9h4M127.5 450.9v4M128 444.1h4M130 442.1v4M130.3 442.7h4M132.3 440.7v4M130.6 455.9h4M132.6 453.9v4M133.2 444h4M135.2 442v4M131.8 457.1h4M133.8 455.1v4M136.9 444.4h4M138.9 442.4v4M138.8 447.6h4M140.8 445.6v4M142.5 446h4M144.5 444v4M143.8 448.2h4M145.8 446.2v4M146.6 447.7h4M148.6 445.7v4M147.4 447.8h4M149.4 445.8v4M149 461.3h4M151 459.3v4M150.5 448.7h4M152.5 446.7v4M149.8 461.1h4M151.8 459.1v4M153 452.3h4M155 450.3v4M155.8 453.5h4M157.8 451.5v4M154.3 463.1h4M156.3 461.1v4M158.3 453.8h4M160.3 451.8v4M162.1 454.4h4M164.1 452.4v4M162.3 466.7h4M164.3 464.7v4M165.1 456.3h4M167.1 454.3v4M169 457.1h4M171 455.1v4M170.7 469.2h4M172.7 467.2v4M172.2 459.3h4M174.2 457.3v4M173.4 469.7h4M175.4 467.7v4M176 460.8h4M178 458.8v4M177.5 472.8h4M179.5 470.8v4M179.5 460.1h4M181.5 458.1v4M183 461.9h4M185 459.9v4M183.8 475.1h4M185.8 473.1v4M185.9 461.7h4M187.9 459.7v4M187.3 463.7h4M189.3 461.7v4M190.3 463.4h4M192.3 461.4v4M192.7 464.6h4M194.7 462.6v4M195.1 464.5h4M197.1 462.5v4M198.1 466.8h4M200.1 464.8v4M201.4 479.7h4M203.4 477.7v4M203.4 480.6h4M205.4 478.6v4M205.9 480.7h4M207.9 478.7v4M209.7 471.2h4M211.7 469.2v4M212.3 469.9h4M214.3 467.9v4M211.5 482h4M213.5 480v4M213.8 472.5h4M215.8 470.5v4M213.3 481.6h4M215.3 479.6v4M216.6 472.2h4M218.6 470.2v4M217.6 471h4M219.6 469v4M218.4 483.1h4M220.4 481.1v4M220.5 471.6h4M222.5 469.6v4M220 484.7h4M222 482.7v4M223.2 473.8h4M225.2 471.8v4M225.5 486.2h4M227.5 484.2v4M227.6 475.3h4M229.6 473.3v4M230.8 487.8h4M232.8 485.8v4M234.2 475.1h4M236.2 473.1v4M234.8 487.3h4M236.8 485.3v4M235.7 476h4M237.7 474v4M236 488.9h4M238 486.9v4M240.6 489.7h4M242.6 487.7v4M243.8 477.6h4M245.8 475.6v4M242.8 487.7h4M244.8 485.7v4M244.9 477h4M246.9 475v4M245.7 489.9h4M247.7 487.9v4M246.7 477.7h4M248.7 475.7v4M248.7 488.9h4M250.7 486.9v4M251.5 490.5h4M253.5 488.5v4M255.6 491.9h4M257.6 489.9v4M257.8 480.5h4M259.8 478.5v4M257.9 491.3h4M259.9 489.3v4" stroke="#ff0000" stroke-width="1.6" fill="none"/>
<path d="M147.5 469.6h7M151 466.1v7M154.8 470.2h7M158.3 466.7v7M239.1 493.4h7M242.6 489.9v7M173.3 473.4h7M176.8 469.9v7M224.6 494.8h7M228.1 491.3v7M217.3 489.6h7M220.8 486.1v7M183.8 477.9h7M187.3 474.4v7M224.2 488.9h7M227.7 485.4v7M201.7 485.9h7M205.2 482.4v7M213.7 483.2h7M217.2 479.7v7M164.6 473.8h7M168.1 470.3v7M206.1 489.6h7M209.6 486.1v7M142.9 459.8h7M146.4 456.3v7M197.7 486h7M201.2 482.5v7M160.3 472.7h7M163.8 469.2v7M186.6 477.7h7M190.1 474.2v7M237.7 486.2h7M241.2 482.7v7M250.4 489.4h7M253.9 485.9v7M180.7 474.7h7M184.2 471.2v7M193.6 485.7h7M197.1 482.2v7M163.5 471.6h7M167 468.1v7M190.2 478.7h7M193.7 475.2v7M152.4 468.8h7M155.9 465.3v7M187.1 479.6h7M190.6 476.1v7M210 482.8h7M213.5 479.3v7M236.3 494.8h7M239.8 491.3v7M167.5 476.2h7M171 472.7v7M221.8 487.2h7M225.3 483.7v7M169.4 468.9h7M172.9 465.4v7M187 479.4h7M190.5 475.9v7M195.9 482.5h7M199.4 479v7M203.4 480.9h7M206.9 477.4v7M163.9 471.9h7M167.4 468.4v7M194.1 478.6h7M197.6 475.1v7M170.3 479.1h7M173.8 475.6v7M234 492.8h7M237.5 489.3v7M179.8 476.7h7M183.3 473.2v7M222.5 490.2h7M226 486.7v7M214.6 483.4h7M218.1 479.9v7M223.4 486.3h7M226.9 482.8v7M176.5 476.6h7M180 473.1v7M252.3 490.5h7M255.8 487v7M215.3 485.5h7M218.8 482v7M251.1 488.7h7M254.6 485.2v7M202.5 486.7h7M206 483.2v7M221.8 488.9h7M225.3 485.4v7M215.4 483.4h7M218.9 479.9v7M256.7 492.5h7M260.2 489v7M209.1 484.1h7M212.6 480.6v7M195.1 484h7M198.6 480.5v7M186.8 475.7h7M190.3 472.2v7M160.5 473.9h7M164 470.4v7M161.6 470.4h7M165.1 466.9v7M223.3 486.5h7M226.8 483v7M235 490.1h7M238.5 486.6v7M252 488.3h7M255.5 484.8v7M188.4 478.8h7M191.9 475.3v7M169.8 472.8h7M173.3 469.3v7M188.6 479.3h7M192.1 475.8v7M242.4 489h7M245.9 485.5v7M143.4 465.7h7M146.9 462.2v7M189.5 475.5h7M193 472v7M228.6 492.4h7M232.1 488.9v7M216.4 492.6h7M219.9 489.1v7M169.4 477.2h7M172.9 473.7v7M180.9 482h7M184.4 478.5v7M258.3 492.6h7M261.8 489.1v7M188 482.8h7M191.5 479.3v7M224.3 489.7h7M227.8 486.2v7M146.4 462.6h7M149.9 459.1v7" stroke="#ff0000" stroke-width="2.0" fill="none"/>
<polyline points="110.7,403.8 118.8,410.5 126.7,415.4 134.4,419.4 142.7,423.2 157.4,427 173,433.5 182,435 190,438.5 198,441 204,444 212,447.5 220,452 245,452.5 252,453.5 259,458.5" fill="none" stroke="#ee1c1c" stroke-width="1.2" stroke-linejoin="round" stroke-linecap="round" />
<path d="M106.9 403.8h7.6M110.7 399.2v9.2M114.8 410.3h7.6M118.6 405.7v9.2M122.7 415.3h7.6M126.5 410.7v9.2M130.6 419.4h7.6M134.4 414.8v9.2M138.5 423h7.6M142.3 418.4v9.2M146.4 425.1h7.6M150.2 420.5v9.2M154.3 427.3h7.6M158.1 422.7v9.2M162.2 430.6h7.6M166 426v9.2M170.1 433.6h7.6M173.9 429v9.2M178 435h7.6M181.8 430.4v9.2M185.9 438.4h7.6M189.7 433.8v9.2M193.8 440.9h7.6M197.6 436.3v9.2M201.7 444.7h7.6M205.5 440.1v9.2M209.6 448.3h7.6M213.4 443.7v9.2M217.5 452h7.6M221.3 447.4v9.2M225.4 452.2h7.6M229.2 447.6v9.2M233.3 452.3h7.6M237.1 447.7v9.2M241.2 452.5h7.6M245 447.9v9.2M249.1 454.1h7.6M252.9 449.5v9.2" stroke="#ee1c1c" stroke-width="2.2" fill="none"/>
<polyline points="270,498 329,507.3 395,511.7 430,518.3 434,523.8 489,527" fill="none" stroke="#ee1c1c" stroke-width="1.2" stroke-linejoin="round" stroke-linecap="round" />
<path d="M266.2 497.4h7.6M270 492.8v9.2M274.1 499.8h7.6M277.9 495.2v9.2M282 500.9h7.6M285.8 496.3v9.2M289.9 501.3h7.6M293.7 496.7v9.2M297.8 503h7.6M301.6 498.4v9.2M305.7 504.1h7.6M309.5 499.5v9.2M313.6 505.7h7.6M317.4 501.1v9.2M321.5 507.2h7.6M325.3 502.6v9.2M329.4 506.9h7.6M333.2 502.3v9.2M337.3 507.4h7.6M341.1 502.8v9.2M345.2 509.2h7.6M349 504.6v9.2M353.1 509.1h7.6M356.9 504.5v9.2M361 510.1h7.6M364.8 505.5v9.2M368.9 509.4h7.6M372.7 504.8v9.2M376.8 510.7h7.6M380.6 506.1v9.2M384.7 511.6h7.6M388.5 507v9.2M392.6 511.5h7.6M396.4 506.9v9.2M400.5 514.2h7.6M404.3 509.6v9.2M408.4 515.6h7.6M412.2 511v9.2M416.3 515.7h7.6M420.1 511.1v9.2M424.2 517.2h7.6M428 512.6v9.2M432.1 524h7.6M435.9 519.4v9.2M440 525.1h7.6M443.8 520.5v9.2M447.9 524.6h7.6M451.7 520v9.2M455.8 524.8h7.6M459.6 520.2v9.2M463.7 525.6h7.6M467.5 521v9.2M471.6 525.5h7.6M475.4 520.9v9.2M479.5 526.2h7.6M483.3 521.6v9.2" stroke="#ee1c1c" stroke-width="2.2" fill="none"/>
<polyline points="258,540 264,540 329,543 395,549 430,551 438,558 490,560" fill="none" stroke="#ff0000" stroke-width="10" stroke-linejoin="round" stroke-linecap="round" />
<path d="M257.2 536.2h4M259.2 534.2v4M260.1 534.7h4M262.1 532.7v4M263.1 534.6h4M265.1 532.6v4M263 544.6h4M265 542.6v4M265.4 535.5h4M267.4 533.5v4M265.2 545.5h4M267.2 543.5v4M267.6 543.5h4M269.6 541.5v4M268.6 543.6h4M270.6 541.6v4M271.6 546.3h4M273.6 544.3v4M273.3 535.6h4M275.3 533.6v4M276.2 545.6h4M278.2 543.6v4M280.4 536.8h4M282.4 534.8v4M279.4 545.6h4M281.4 543.6v4M282.7 544.3h4M284.7 542.3v4M284.6 537.5h4M286.6 535.5v4M285.3 544.7h4M287.3 542.7v4M285.8 546.5h4M287.8 544.5v4M289.2 535.5h4M291.2 533.5v4M288.8 545.4h4M290.8 543.4v4M290.3 535.3h4M292.3 533.3v4M291 546.6h4M293 544.6v4M294.2 547.4h4M296.2 545.4v4M298.4 536.2h4M300.4 534.2v4M298.2 546.1h4M300.2 544.1v4M300.5 538.5h4M302.5 536.5v4M300.6 546.2h4M302.6 544.2v4M301.4 538.8h4M303.4 536.8v4M304.3 538.2h4M306.3 536.2v4M307.4 537.8h4M309.4 535.8v4M308.8 537.7h4M310.8 535.7v4M308.4 546.3h4M310.4 544.3v4M311.9 547.2h4M313.9 545.2v4M312.8 547.2h4M314.8 545.2v4M316 538h4M318 536v4M317.5 539.5h4M319.5 537.5v4M318.1 545.7h4M320.1 543.7v4M319.5 537.5h4M321.5 535.5v4M322.9 546.3h4M324.9 544.3v4M324.8 548.2h4M326.8 546.2v4M325.6 538.6h4M327.6 536.6v4M326.7 546.4h4M328.7 544.4v4M327.8 548h4M329.8 546v4M330.7 538.4h4M332.7 536.4v4M334.4 538.2h4M336.4 536.2v4M340.2 549.2h4M342.2 547.2v4M342.6 538.5h4M344.6 536.5v4M341.7 549.7h4M343.7 547.7v4M343.1 539.4h4M345.1 537.4v4M345.4 550.6h4M347.4 548.6v4M348.3 550.8h4M350.3 548.8v4M351.2 548.4h4M353.2 546.4v4M352.1 548.4h4M354.1 546.4v4M356 542.4h4M358 540.4v4M359.9 542.7h4M361.9 540.7v4M359.3 550.6h4M361.3 548.6v4M360.7 542.9h4M362.7 540.9v4M361.7 549.2h4M363.7 547.2v4M363.1 542.5h4M365.1 540.5v4M365.4 542.9h4M367.4 540.9v4M367.8 550.2h4M369.8 548.2v4M371 542.2h4M373 540.2v4M372.4 543.2h4M374.4 541.2v4M373.6 551.3h4M375.6 549.3v4M380.1 552.7h4M382.1 550.7v4M381.2 543.1h4M383.2 541.1v4M381.9 551.1h4M383.9 549.1v4M382.8 543h4M384.8 541v4M383.7 551.2h4M385.7 549.2v4M386.6 553h4M388.6 551v4M388.4 544.1h4M390.4 542.1v4M389.4 543.8h4M391.4 541.8v4M389.3 554.7h4M391.3 552.7v4M396.2 553.5h4M398.2 551.5v4M400.7 554.2h4M402.7 552.2v4M409.1 545.2h4M411.1 543.2v4M410.9 553.3h4M412.9 551.3v4M413.1 544.3h4M415.1 542.3v4M411.3 555.6h4M413.3 553.6v4M413.5 547.2h4M415.5 545.2v4M413.6 555.7h4M415.6 553.7v4M416.4 553.7h4M418.4 551.7v4M418.6 544.5h4M420.6 542.5v4M422.5 546.9h4M424.5 544.9v4M426 546.5h4M428 544.5v4M430 549.2h4M432 547.2v4M429.9 558.2h4M431.9 556.2v4M435 550.9h4M437 548.9v4M434.9 562.2h4M436.9 560.2v4M435.7 561.8h4M437.7 559.8v4M438.3 552.5h4M440.3 550.5v4M437.8 562h4M439.8 560v4M442.3 562.4h4M444.3 560.4v4M447.4 552.6h4M449.4 550.6v4M450.6 554.4h4M452.6 552.4v4M455.4 555.4h4M457.4 553.4v4M457.6 563.4h4M459.6 561.4v4M463.1 553.1h4M465.1 551.1v4M462.1 563.1h4M464.1 561.1v4M467.5 555.6h4M469.5 553.6v4M469.6 562.6h4M471.6 560.6v4M471.7 554h4M473.7 552v4M476.8 562.5h4M478.8 560.5v4M478.1 553.6h4M480.1 551.6v4M478.6 563.4h4M480.6 561.4v4M479.6 554.8h4M481.6 552.8v4M481.9 554.3h4M483.9 552.3v4M483.8 555.7h4M485.8 553.7v4M484 565.4h4M486 563.4v4M488 556.9h4M490 554.9v4" stroke="#ff0000" stroke-width="1.6" fill="none"/>
<path d="M232 515h8M236 510v10M242 515h8M246 510v10M244 520.5h8M248 515.5v10M245 526h8M249 521v10" stroke="#111" stroke-width="2" fill="none"/>
<path d="M263 520.5h8M267 515.5v10" stroke="#ee1c1c" stroke-width="2" fill="none"/>
<polyline points="645,122 660,123 701,131.5 782,127.7 843,124.2 890,118.7 935,115.8 972,113 978,102.3 1008,99 1017,104.5 1030,102 1049,102.3 1094,98.4 1108,99 1116,106 1125,104 1139,97.8 1153,98.3" fill="none" stroke="#000" stroke-width="10" stroke-linejoin="round" stroke-linecap="round" />
<path d="M643.3 118.6h4M645.3 116.6v4M642.7 126.3h4M644.7 124.3v4M644.3 117.9h4M646.3 115.9v4M644.4 125.3h4M646.4 123.3v4M646.6 117.2h4M648.6 115.2v4M648.3 126.9h4M650.3 124.9v4M648.7 127.9h4M650.7 125.9v4M651 125.9h4M653 123.9v4M653.4 117.7h4M655.4 115.7v4M655.3 127.2h4M657.3 125.2v4M658.8 119.6h4M660.8 117.6v4M658.6 126.9h4M660.6 124.9v4M661.2 119.8h4M663.2 117.8v4M662.9 119.6h4M664.9 117.6v4M664.2 129.9h4M666.2 127.9v4M666.5 120h4M668.5 118v4M667.5 128h4M669.5 126v4M671.8 130.6h4M673.8 128.6v4M674.7 131.4h4M676.7 129.4v4M675.1 122.1h4M677.1 120.1v4M680.7 131.6h4M682.7 129.6v4M681.9 123.9h4M683.9 121.9v4M683.1 131.2h4M685.1 129.2v4M684.6 124.9h4M686.6 122.9v4M687.1 124.9h4M689.1 122.9v4M691.1 125.9h4M693.1 123.9v4M693.1 133.8h4M695.1 131.8v4M696 126.6h4M698 124.6v4M695.6 133.8h4M697.6 131.8v4M698.9 126.9h4M700.9 124.9v4M700.6 126.9h4M702.6 124.9v4M700.8 136.7h4M702.8 134.7v4M703.8 127.2h4M705.8 125.2v4M706.2 128h4M708.2 126v4M705.9 135h4M707.9 133v4M708.2 127.7h4M710.2 125.7v4M709.7 134.1h4M711.7 132.1v4M710.9 134.6h4M712.9 132.6v4M714.1 127.5h4M716.1 125.5v4M714.8 126.5h4M716.8 124.5v4M715.1 134.6h4M717.1 132.6v4M718.7 133.7h4M720.7 131.7v4M720.1 127.1h4M722.1 125.1v4M721 134.8h4M723 132.8v4M723.7 126.4h4M725.7 124.4v4M726.3 125.3h4M728.3 123.3v4M727.6 135.2h4M729.6 133.2v4M732.9 125.6h4M734.9 123.6v4M732.8 133h4M734.8 131v4M736.3 125.1h4M738.3 123.1v4M736.4 135.1h4M738.4 133.1v4M737.1 133.2h4M739.1 131.2v4M740 126.1h4M742 124.1v4M742.6 134.1h4M744.6 132.1v4M745 124.7h4M747 122.7v4M747 132.7h4M749 130.7v4M749.5 124.2h4M751.5 122.2v4M749.5 133.2h4M751.5 131.2v4M750.1 132.4h4M752.1 130.4v4M756.2 123.8h4M758.2 121.8v4M756.7 124.4h4M758.7 122.4v4M757.7 134.2h4M759.7 132.2v4M759.5 123.3h4M761.5 121.3v4M761.4 132.2h4M763.4 130.2v4M763.5 124h4M765.5 122v4M764.8 131.8h4M766.8 129.8v4M766.4 124.2h4M768.4 122.2v4M768.4 122.9h4M770.4 120.9v4M767.4 132.6h4M769.4 130.6v4M769.6 124.7h4M771.6 122.7v4M773.3 123.9h4M775.3 121.9v4M775.1 123.6h4M777.1 121.6v4M776.7 123.4h4M778.7 121.4v4M777.2 132.8h4M779.2 130.8v4M781.6 132.1h4M783.6 130.1v4M783.7 122.8h4M785.7 120.8v4M784.7 131.7h4M786.7 129.7v4M789.1 131.6h4M791.1 129.6v4M790.3 130.4h4M792.3 128.4v4M791.7 123.4h4M793.7 121.4v4M797.3 121.9h4M799.3 119.9v4M797.9 131.9h4M799.9 129.9v4M799 121.2h4M801 119.2v4M799.9 132.1h4M801.9 130.1v4M801.4 122.4h4M803.4 120.4v4M801 130h4M803 128v4M803.5 130.7h4M805.5 128.7v4M806 122.4h4M808 120.4v4M806.8 129.4h4M808.8 127.4v4M809.3 122.3h4M811.3 120.3v4M812.2 122.5h4M814.2 120.5v4M815.4 129.1h4M817.4 127.1v4M819.4 122.3h4M821.4 120.3v4M819.9 128.6h4M821.9 126.6v4M822.5 120.1h4M824.5 118.1v4M825.7 121.2h4M827.7 119.2v4M827.9 121.6h4M829.9 119.6v4M827.1 128.2h4M829.1 126.2v4M829.6 121.3h4M831.6 119.3v4M829.6 129.7h4M831.6 127.7v4M831.9 121.3h4M833.9 119.3v4M831.2 128.3h4M833.2 126.3v4M837.5 120.3h4M839.5 118.3v4M836.5 129.5h4M838.5 127.5v4M838.6 119.2h4M840.6 117.2v4M839.8 129h4M841.8 127v4M841.4 119.1h4M843.4 117.1v4M842.3 120.1h4M844.3 118.1v4M843.7 127.1h4M845.7 125.1v4M844.6 120.3h4M846.6 118.3v4M849.4 119.6h4M851.4 117.6v4M849.7 126.6h4M851.7 124.6v4M852.9 117.5h4M854.9 115.5v4M852.9 126.5h4M854.9 124.5v4M853.2 118.8h4M855.2 116.8v4M854.2 126.8h4M856.2 124.8v4M855.4 118.1h4M857.4 116.1v4M856.2 125.6h4M858.2 123.6v4M858.2 119.1h4M860.2 117.1v4M858.7 126.6h4M860.7 124.6v4M866.2 117.6h4M868.2 115.6v4M865.5 126.2h4M867.5 124.2v4M868.2 116h4M870.2 114v4M871.8 116.3h4M873.8 114.3v4M879.9 116.5h4M881.9 114.5v4M881.3 122.8h4M883.3 120.8v4M887.8 115.8h4M889.8 113.8v4M889.7 114.3h4M891.7 112.3v4M888.9 123.5h4M890.9 121.5v4M892.1 114.8h4M894.1 112.8v4M892.6 123.3h4M894.6 121.3v4M893.8 114.4h4M895.8 112.4v4M897.7 121.4h4M899.7 119.4v4M899.4 122.3h4M901.4 120.3v4M902.9 114.1h4M904.9 112.1v4M904.7 121.9h4M906.7 119.9v4M907.8 114.2h4M909.8 112.2v4M907.9 122.9h4M909.9 120.9v4M909.8 113.2h4M911.8 111.2v4M910.8 113.5h4M912.8 111.5v4M912.9 112.6h4M914.9 110.6v4M912.9 122.4h4M914.9 120.4v4M916.2 122.1h4M918.2 120.1v4M918 111.5h4M920 109.5v4M918 119.8h4M920 117.8v4M919.5 112.9h4M921.5 110.9v4M920.9 120.4h4M922.9 118.4v4M923.1 111.6h4M925.1 109.6v4M922.8 121.8h4M924.8 119.8v4M924.4 120.3h4M926.4 118.3v4M928.6 112h4M930.6 110v4M929.7 119.3h4M931.7 117.3v4M930.7 110.6h4M932.7 108.6v4M930.6 120.2h4M932.6 118.2v4M934.2 110.4h4M936.2 108.4v4M936.9 120.2h4M938.9 118.2v4M940.3 120.2h4M942.3 118.2v4M943.1 112h4M945.1 110v4M941.9 119.3h4M943.9 117.3v4M945.4 110.1h4M947.4 108.1v4M944 119.6h4M946 117.6v4M945.9 118.2h4M947.9 116.2v4M948.8 109.3h4M950.8 107.3v4M949.8 119.9h4M951.8 117.9v4M950.4 111.1h4M952.4 109.1v4M950.2 118.3h4M952.2 116.3v4M953.3 110.6h4M955.3 108.6v4M955.4 118.1h4M957.4 116.1v4M956.7 110.1h4M958.7 108.1v4M956.9 119.4h4M958.9 117.4v4M960.5 109.2h4M962.5 107.2v4M959.3 117.4h4M961.3 115.4v4M962.9 109.5h4M964.9 107.5v4M964.6 116.5h4M966.6 114.5v4M965.4 117.7h4M967.4 115.7v4M969.3 107.8h4M971.3 105.8v4M970.1 114.8h4M972.1 112.8v4M973.9 102.9h4M975.9 100.9v4M976.5 97.8h4M978.5 95.8v4M979.9 96.6h4M981.9 94.6v4M979.1 105.2h4M981.1 103.2v4M984 98.2h4M986 96.2v4M986.4 97.6h4M988.4 95.6v4M986.1 104.9h4M988.1 102.9v4M990.1 104.3h4M992.1 102.3v4M995 97.2h4M997 95.2v4M997.5 96.3h4M999.5 94.3v4M999.1 96.6h4M1001.1 94.6v4M998.8 104.4h4M1000.8 102.4v4M1004.7 95.7h4M1006.7 93.7v4M1003.3 104.3h4M1005.3 102.3v4M1005.6 94.1h4M1007.6 92.1v4M1007.6 96.9h4M1009.6 94.9v4M1009.1 105h4M1011.1 103v4M1009.8 97.7h4M1011.8 95.7v4M1011.7 99.9h4M1013.7 97.9v4M1013.4 108.3h4M1015.4 106.3v4M1017.9 107.6h4M1019.9 105.6v4M1019 108.4h4M1021 106.4v4M1020.7 99.4h4M1022.7 97.4v4M1021.1 107h4M1023.1 105v4M1023 108.3h4M1025 106.3v4M1026.4 97.4h4M1028.4 95.4v4M1025.7 105.5h4M1027.7 103.5v4M1027.4 96.7h4M1029.4 94.7v4M1027.1 107.2h4M1029.1 105.2v4M1030.7 97h4M1032.7 95v4M1029.3 105.1h4M1031.3 103.1v4M1033.2 106.9h4M1035.2 104.9v4M1035.5 98.4h4M1037.5 96.4v4M1036.4 97.3h4M1038.4 95.3v4M1037.3 105.1h4M1039.3 103.1v4M1041.2 105.8h4M1043.2 103.8v4M1045.5 98.7h4M1047.5 96.7v4M1045 107.6h4M1047 105.6v4M1051.9 105.6h4M1053.9 103.6v4M1054.9 105.2h4M1056.9 103.2v4M1055.7 98.3h4M1057.7 96.3v4M1059.6 95.8h4M1061.6 93.8v4M1060.2 97.9h4M1062.2 95.9v4M1060.9 105.9h4M1062.9 103.9v4M1063.4 96.9h4M1065.4 94.9v4M1067.2 105.6h4M1069.2 103.6v4M1069.2 105.2h4M1071.2 103.2v4M1071.3 96.5h4M1073.3 94.5v4M1075.2 103.9h4M1077.2 101.9v4M1077 96.2h4M1079 94.2v4M1079.2 103.7h4M1081.2 101.7v4M1082.2 95.4h4M1084.2 93.4v4M1083.2 104.6h4M1085.2 102.6v4M1085.1 104.2h4M1087.1 102.2v4M1088.3 93.9h4M1090.3 91.9v4M1087.6 103.3h4M1089.6 101.3v4M1088.9 94.7h4M1090.9 92.7v4M1089.8 102.2h4M1091.8 100.2v4M1091.5 101.4h4M1093.5 99.4v4M1093.4 102.3h4M1095.4 100.3v4M1095.4 101.7h4M1097.4 99.7v4M1098.7 94.3h4M1100.7 92.3v4M1098.8 102.1h4M1100.8 100.1v4M1100.2 95.1h4M1102.2 93.1v4M1102.5 94.4h4M1104.5 92.4v4M1103.8 104h4M1105.8 102v4M1105.5 95.5h4M1107.5 93.5v4M1105.8 102h4M1107.8 100v4M1107 95h4M1109 93v4M1108.4 98.6h4M1110.4 96.6v4M1113.5 101.3h4M1115.5 99.3v4M1113.4 109.2h4M1115.4 107.2v4M1115.2 100.2h4M1117.2 98.2v4M1116.9 110.6h4M1118.9 108.6v4M1119.1 101.8h4M1121.1 99.8v4M1121.3 101.4h4M1123.3 99.4v4M1120.6 109.8h4M1122.6 107.8v4M1122 109.1h4M1124 107.1v4M1125.5 98.1h4M1127.5 96.1v4M1124.6 106.7h4M1126.6 104.7v4M1126.2 98.3h4M1128.2 96.3v4M1127.8 107h4M1129.8 105v4M1129.7 96.8h4M1131.7 94.8v4M1128.4 106.3h4M1130.4 104.3v4M1133.8 103.4h4M1135.8 101.4v4M1135.7 93.7h4M1137.7 91.7v4M1136 101.4h4M1138 99.4v4M1138.5 94.2h4M1140.5 92.2v4M1140.1 94.5h4M1142.1 92.5v4M1140.1 101.2h4M1142.1 99.2v4M1142.4 93.9h4M1144.4 91.9v4M1141.6 102.6h4M1143.6 100.6v4M1146.8 95h4M1148.8 93v4M1146.1 103.5h4M1148.1 101.5v4" stroke="#000" stroke-width="1.6" fill="none"/>
<polyline points="652,254 662,255 672,259 690,262 800,262 900,261 975,260 1000,258 1100,259 1150,259.5" fill="none" stroke="#1a1a1a" stroke-width="1.3" stroke-linejoin="round" stroke-linecap="round" />
<path d="M647.8 254h8.4M652 249v10M655.8 254.8h8.4M660 249.8v10M663.8 257.4h8.4M668 252.4v10M671.8 259.7h8.4M676 254.7v10M679.8 261h8.4M684 256v10M687.8 262h8.4M692 257v10M695.8 262h8.4M700 257v10M703.8 262h8.4M708 257v10M711.8 262h8.4M716 257v10M719.8 262h8.4M724 257v10M727.8 262h8.4M732 257v10M735.8 262h8.4M740 257v10M743.8 262h8.4M748 257v10M751.8 262h8.4M756 257v10M759.8 262h8.4M764 257v10M767.8 262h8.4M772 257v10M775.8 262h8.4M780 257v10M783.8 262h8.4M788 257v10M791.8 262h8.4M796 257v10M799.8 262h8.4M804 257v10M807.8 261.9h8.4M812 256.9v10M815.8 261.8h8.4M820 256.8v10M823.8 261.7h8.4M828 256.7v10M831.8 261.6h8.4M836 256.6v10M839.8 261.6h8.4M844 256.6v10M847.8 261.5h8.4M852 256.5v10M855.8 261.4h8.4M860 256.4v10M863.8 261.3h8.4M868 256.3v10M871.8 261.2h8.4M876 256.2v10M879.8 261.2h8.4M884 256.2v10M887.8 261.1h8.4M892 256.1v10M895.8 261h8.4M900 256v10M903.8 260.9h8.4M908 255.9v10M911.8 260.8h8.4M916 255.8v10M919.8 260.7h8.4M924 255.7v10M927.8 260.6h8.4M932 255.6v10M935.8 260.5h8.4M940 255.5v10M943.8 260.4h8.4M948 255.4v10M951.8 260.3h8.4M956 255.3v10M959.8 260.1h8.4M964 255.1v10M967.8 260h8.4M972 255v10M975.8 259.6h8.4M980 254.6v10M983.8 259h8.4M988 254v10M991.8 258.3h8.4M996 253.3v10M999.8 258h8.4M1004 253v10M1007.8 258.1h8.4M1012 253.1v10M1015.8 258.2h8.4M1020 253.2v10M1023.8 258.3h8.4M1028 253.3v10M1031.8 258.4h8.4M1036 253.4v10M1039.8 258.4h8.4M1044 253.4v10M1047.8 258.5h8.4M1052 253.5v10M1055.8 258.6h8.4M1060 253.6v10M1063.8 258.7h8.4M1068 253.7v10M1071.8 258.8h8.4M1076 253.8v10M1079.8 258.8h8.4M1084 253.8v10M1087.8 258.9h8.4M1092 253.9v10M1095.8 259h8.4M1100 254v10M1103.8 259.1h8.4M1108 254.1v10M1111.8 259.2h8.4M1116 254.2v10M1119.8 259.2h8.4M1124 254.2v10M1127.8 259.3h8.4M1132 254.3v10M1135.8 259.4h8.4M1140 254.4v10M1143.8 259.5h8.4M1148 254.5v10" stroke="#1a1a1a" stroke-width="2.1" fill="none"/>
<path d="M769 146h8M773 141v10M774 156h8M778 151v10M789 150h8M793 145v10M789 154h8M793 149v10M786 167h8M790 162v10M1042 84h8M1046 79v10M1042 90h8M1046 85v10" stroke="#111" stroke-width="2" fill="none"/>
<path d="M885 99h10M890 95v8M888 101h10M893 97v8M890 98h10M895 94v8M887 96h10M892 92v8" stroke="#000" stroke-width="3" fill="none"/>
<polyline points="645,485 660,486 701,494.5 782,490.7 843,487.2 890,481.7 935,478.8 972,476 978,465.3 1008,462 1017,467.5 1030,465 1049,465.3 1094,461.4 1108,462 1116,469 1125,467 1139,460.8 1153,461.3" fill="none" stroke="#000" stroke-width="10" stroke-linejoin="round" stroke-linecap="round" />
<path d="M643.5 479.9h4M645.5 477.9v4M644.8 479.9h4M646.8 477.9v4M649.9 480h4M651.9 478v4M651.4 481.2h4M653.4 479.2v4M654.1 481.8h4M656.1 479.8v4M658.1 491.1h4M660.1 489.1v4M661.1 482.2h4M663.1 480.2v4M668.1 483.7h4M670.1 481.7v4M668 491.1h4M670 489.1v4M668.4 492.7h4M670.4 490.7v4M674.6 492.9h4M676.6 490.9v4M678.4 485.1h4M680.4 483.1v4M678.5 493.2h4M680.5 491.2v4M679.8 487.5h4M681.8 485.5v4M681.8 487.6h4M683.8 485.6v4M685.3 486.7h4M687.3 484.7v4M684.1 495.7h4M686.1 493.7v4M686 488.7h4M688 486.7v4M689.5 487.2h4M691.5 485.2v4M689.5 497.5h4M691.5 495.5v4M691.4 488.8h4M693.4 486.8v4M697.4 497.5h4M699.4 495.5v4M700.6 489.7h4M702.6 487.7v4M701.9 489.1h4M703.9 487.1v4M703 497.8h4M705 495.8v4M705.5 490.8h4M707.5 488.8v4M704.8 498.7h4M706.8 496.7v4M709.1 490.3h4M711.1 488.3v4M710.3 489.9h4M712.3 487.9v4M713.7 490.8h4M715.7 488.8v4M716.6 499h4M718.6 497v4M717.2 499.1h4M719.2 497.1v4M722.5 496.7h4M724.5 494.7v4M724.7 490.3h4M726.7 488.3v4M726.3 489.5h4M728.3 487.5v4M726.8 497.4h4M728.8 495.4v4M728.9 489.3h4M730.9 487.3v4M731.2 489h4M733.2 487v4M731.2 496h4M733.2 494v4M736 489.3h4M738 487.3v4M735.2 497.5h4M737.2 495.5v4M737.2 487.8h4M739.2 485.8v4M738.4 495.8h4M740.4 493.8v4M740.1 488.9h4M742.1 486.9v4M741.5 488.1h4M743.5 486.1v4M744.3 496.5h4M746.3 494.5v4M748.7 496.6h4M750.7 494.6v4M750.9 488h4M752.9 486v4M753.8 487.9h4M755.8 485.9v4M752.6 497.2h4M754.6 495.2v4M754.8 495h4M756.8 493v4M757.4 488h4M759.4 486v4M757.9 495.7h4M759.9 493.7v4M759.4 487.6h4M761.4 485.6v4M758.7 496.1h4M760.7 494.1v4M762.8 487.8h4M764.8 485.8v4M763 486.3h4M765 484.3v4M763.1 495.2h4M765.1 493.2v4M766.1 486.5h4M768.1 484.5v4M767.8 495.2h4M769.8 493.2v4M771.3 487.7h4M773.3 485.7v4M775.9 487.6h4M777.9 485.6v4M776.3 487.7h4M778.3 485.7v4M777.4 495.3h4M779.4 493.3v4M782.4 485.3h4M784.4 483.3v4M781.6 493.7h4M783.6 491.7v4M784.2 494.1h4M786.2 492.1v4M785.9 486.8h4M787.9 484.8v4M785.7 495.1h4M787.7 493.1v4M788.3 485.3h4M790.3 483.3v4M790.9 485.9h4M792.9 483.9v4M790 495.3h4M792 493.3v4M792.8 486.1h4M794.8 484.1v4M795.3 486.3h4M797.3 484.3v4M799.5 492.9h4M801.5 490.9v4M802.6 493.1h4M804.6 491.1v4M808.6 492.3h4M810.6 490.3v4M809.7 484.8h4M811.7 482.8v4M809.3 494.3h4M811.3 492.3v4M811.9 485.4h4M813.9 483.4v4M816.4 483.5h4M818.4 481.5v4M818.2 493.4h4M820.2 491.4v4M820.9 483.5h4M822.9 481.5v4M821.8 492.7h4M823.8 490.7v4M823.7 482.9h4M825.7 480.9v4M826.5 483h4M828.5 481v4M828.6 491.1h4M830.6 489.1v4M830.4 483.9h4M832.4 481.9v4M830.4 493.2h4M832.4 491.2v4M835.7 490.6h4M837.7 488.6v4M838.4 483.1h4M840.4 481.1v4M840.9 482.2h4M842.9 480.2v4M846.4 482.2h4M848.4 480.2v4M845.9 490.2h4M847.9 488.2v4M851.7 482.8h4M853.7 480.8v4M851.4 489h4M853.4 487v4M853.6 489.4h4M855.6 487.4v4M856.6 482.1h4M858.6 480.1v4M857.1 490.7h4M859.1 488.7v4M861.5 481.5h4M863.5 479.5v4M860.8 489.8h4M862.8 487.8v4M862.9 480.9h4M864.9 478.9v4M862.1 489.4h4M864.1 487.4v4M865.7 479.4h4M867.7 477.4v4M869.2 478.4h4M871.2 476.4v4M869.1 487.4h4M871.1 485.4v4M871.4 478.2h4M873.4 476.2v4M871.2 487.8h4M873.2 485.8v4M873 488.3h4M875 486.3v4M878.9 478h4M880.9 476v4M880.2 478.8h4M882.2 476.8v4M882.8 486.2h4M884.8 484.2v4M888 485.3h4M890 483.3v4M889.5 486.4h4M891.5 484.4v4M891.1 486h4M893.1 484v4M897.3 476.9h4M899.3 474.9v4M899.8 476.9h4M901.8 474.9v4M901.1 484.6h4M903.1 482.6v4M903.9 477h4M905.9 475v4M905.3 485h4M907.3 483v4M907.2 484.8h4M909.2 482.8v4M909.1 476.1h4M911.1 474.1v4M909.8 485.8h4M911.8 483.8v4M911.5 475.9h4M913.5 473.9v4M916.5 476.8h4M918.5 474.8v4M916.2 484.8h4M918.2 482.8v4M920.5 475.4h4M922.5 473.4v4M920 483h4M922 481v4M922.1 475.4h4M924.1 473.4v4M924.4 482.7h4M926.4 480.7v4M926.6 475.6h4M928.6 473.6v4M927.1 484.2h4M929.1 482.2v4M932 474.6h4M934 472.6v4M933.1 474.1h4M935.1 472.1v4M936.4 473.8h4M938.4 471.8v4M934.9 481.7h4M936.9 479.7v4M938.7 483.3h4M940.7 481.3v4M942.5 481.9h4M944.5 479.9v4M945 473.8h4M947 471.8v4M945.1 483.4h4M947.1 481.4v4M949.3 480.6h4M951.3 478.6v4M950.3 473h4M952.3 471v4M952.8 471.8h4M954.8 469.8v4M953 481.4h4M955 479.4v4M954.9 472.2h4M956.9 470.2v4M956.9 473.2h4M958.9 471.2v4M958.3 480.4h4M960.3 478.4v4M960 473.1h4M962 471.1v4M960.3 482.2h4M962.3 480.2v4M961.5 471.4h4M963.5 469.4v4M962 481h4M964 479v4M964.1 481.4h4M966.1 479.4v4M969.6 470.7h4M971.6 468.7v4M971.6 479.4h4M973.6 477.4v4M973.7 466.7h4M975.7 464.7v4M973.8 476.1h4M975.8 474.1v4M976.7 469.1h4M978.7 467.1v4M980.5 460.7h4M982.5 458.7v4M978.7 468h4M980.7 466v4M983.4 459.7h4M985.4 457.7v4M983.7 468h4M985.7 466v4M986.1 468.8h4M988.1 466.8v4M988.1 458.6h4M990.1 456.6v4M990.7 458.7h4M992.7 456.7v4M992.2 458h4M994.2 456v4M993.2 467.4h4M995.2 465.4v4M995.7 467.6h4M997.7 465.6v4M996.6 458.4h4M998.6 456.4v4M1000.2 467.2h4M1002.2 465.2v4M1006.9 467h4M1008.9 465v4M1009 459h4M1011 457v4M1007.9 468.1h4M1009.9 466.1v4M1010.7 468.4h4M1012.7 466.4v4M1015.3 462.5h4M1017.3 460.5v4M1015.5 470.5h4M1017.5 468.5v4M1017.8 463.7h4M1019.8 461.7v4M1020.7 463.1h4M1022.7 461.1v4M1033.1 461.2h4M1035.1 459.2v4M1035.1 460h4M1037.1 458v4M1036.8 460.9h4M1038.8 458.9v4M1040.6 469.7h4M1042.6 467.7v4M1043.1 469.9h4M1045.1 467.9v4M1045.6 468.9h4M1047.6 466.9v4M1047.4 470.5h4M1049.4 468.5v4M1049.3 461.5h4M1051.3 459.5v4M1049.6 469.9h4M1051.6 467.9v4M1052.4 468.8h4M1054.4 466.8v4M1055.3 469.8h4M1057.3 467.8v4M1056.5 469.7h4M1058.5 467.7v4M1059.3 459.6h4M1061.3 457.6v4M1059.4 468.6h4M1061.4 466.6v4M1061.7 459.7h4M1063.7 457.7v4M1061 469h4M1063 467v4M1064.2 469h4M1066.2 467v4M1065.7 459.8h4M1067.7 457.8v4M1065.3 466.8h4M1067.3 464.8v4M1070 467h4M1072 465v4M1071.4 459.1h4M1073.4 457.1v4M1076.4 457.6h4M1078.4 455.6v4M1078.5 467.7h4M1080.5 465.7v4M1081.6 458.6h4M1083.6 456.6v4M1079.9 467.5h4M1081.9 465.5v4M1084.2 457.6h4M1086.2 455.6v4M1085.7 465.4h4M1087.7 463.4v4M1087.5 456.4h4M1089.5 454.4v4M1090.4 457.8h4M1092.4 455.8v4M1090.4 466.1h4M1092.4 464.1v4M1091.8 456.1h4M1093.8 454.1v4M1092.4 466.3h4M1094.4 464.3v4M1098.6 456.3h4M1100.6 454.3v4M1098.3 465.4h4M1100.3 463.4v4M1100.1 458.3h4M1102.1 456.3v4M1100 465.7h4M1102 463.7v4M1102.7 457.1h4M1104.7 455.1v4M1103.8 464.9h4M1105.8 462.9v4M1106 457.1h4M1108 455.1v4M1104.7 467h4M1106.7 465v4M1106.6 458.6h4M1108.6 456.6v4M1108.6 468.2h4M1110.6 466.2v4M1110.8 463.7h4M1112.8 461.7v4M1111.3 470h4M1113.3 468v4M1113.4 474.2h4M1115.4 472.2v4M1116.6 464.2h4M1118.6 462.2v4M1116.4 473.4h4M1118.4 471.4v4M1118.8 472.4h4M1120.8 470.4v4M1120.4 463.1h4M1122.4 461.1v4M1120.6 472.1h4M1122.6 470.1v4M1122.3 462.4h4M1124.3 460.4v4M1129 459.5h4M1131 457.5v4M1130.8 458.4h4M1132.8 456.4v4M1130.9 468.1h4M1132.9 466.1v4M1133.3 459.1h4M1135.3 457.1v4M1133.7 467.7h4M1135.7 465.7v4M1136.5 456.1h4M1138.5 454.1v4M1137.2 465.8h4M1139.2 463.8v4M1141.6 456.7h4M1143.6 454.7v4M1141.4 465.1h4M1143.4 463.1v4M1145.3 465.3h4M1147.3 463.3v4M1147 465.3h4M1149 463.3v4M1149.3 457.8h4M1151.3 455.8v4M1149 466h4M1151 464v4" stroke="#000" stroke-width="1.6" fill="none"/>
<polyline points="652,617 662,618 672,622 690,625 800,625 900,624 975,623 1000,621 1100,622 1150,622.5" fill="none" stroke="#1a1a1a" stroke-width="1.3" stroke-linejoin="round" stroke-linecap="round" />
<path d="M647.8 617h8.4M652 612v10M655.8 617.8h8.4M660 612.8v10M663.8 620.4h8.4M668 615.4v10M671.8 622.7h8.4M676 617.7v10M679.8 624h8.4M684 619v10M687.8 625h8.4M692 620v10M695.8 625h8.4M700 620v10M703.8 625h8.4M708 620v10M711.8 625h8.4M716 620v10M719.8 625h8.4M724 620v10M727.8 625h8.4M732 620v10M735.8 625h8.4M740 620v10M743.8 625h8.4M748 620v10M751.8 625h8.4M756 620v10M759.8 625h8.4M764 620v10M767.8 625h8.4M772 620v10M775.8 625h8.4M780 620v10M783.8 625h8.4M788 620v10M791.8 625h8.4M796 620v10M799.8 625h8.4M804 620v10M807.8 624.9h8.4M812 619.9v10M815.8 624.8h8.4M820 619.8v10M823.8 624.7h8.4M828 619.7v10M831.8 624.6h8.4M836 619.6v10M839.8 624.6h8.4M844 619.6v10M847.8 624.5h8.4M852 619.5v10M855.8 624.4h8.4M860 619.4v10M863.8 624.3h8.4M868 619.3v10M871.8 624.2h8.4M876 619.2v10M879.8 624.2h8.4M884 619.2v10M887.8 624.1h8.4M892 619.1v10M895.8 624h8.4M900 619v10M903.8 623.9h8.4M908 618.9v10M911.8 623.8h8.4M916 618.8v10M919.8 623.7h8.4M924 618.7v10M927.8 623.6h8.4M932 618.6v10M935.8 623.5h8.4M940 618.5v10M943.8 623.4h8.4M948 618.4v10M951.8 623.3h8.4M956 618.3v10M959.8 623.1h8.4M964 618.1v10M967.8 623h8.4M972 618v10M975.8 622.6h8.4M980 617.6v10M983.8 622h8.4M988 617v10M991.8 621.3h8.4M996 616.3v10M999.8 621h8.4M1004 616v10M1007.8 621.1h8.4M1012 616.1v10M1015.8 621.2h8.4M1020 616.2v10M1023.8 621.3h8.4M1028 616.3v10M1031.8 621.4h8.4M1036 616.4v10M1039.8 621.4h8.4M1044 616.4v10M1047.8 621.5h8.4M1052 616.5v10M1055.8 621.6h8.4M1060 616.6v10M1063.8 621.7h8.4M1068 616.7v10M1071.8 621.8h8.4M1076 616.8v10M1079.8 621.8h8.4M1084 616.8v10M1087.8 621.9h8.4M1092 616.9v10M1095.8 622h8.4M1100 617v10M1103.8 622.1h8.4M1108 617.1v10M1111.8 622.2h8.4M1116 617.2v10M1119.8 622.2h8.4M1124 617.2v10M1127.8 622.3h8.4M1132 617.3v10M1135.8 622.4h8.4M1140 617.4v10M1143.8 622.5h8.4M1148 617.5v10" stroke="#1a1a1a" stroke-width="2.1" fill="none"/>
<path d="M769 509h8M773 504v10M774 519h8M778 514v10M789 513h8M793 508v10M789 517h8M793 512v10M786 530h8M790 525v10M1042 447h8M1046 442v10M1042 453h8M1046 448v10" stroke="#111" stroke-width="2" fill="none"/>
<path d="M885 462h10M890 458v8M888 464h10M893 460v8M890 461h10M895 457v8M887 459h10M892 455v8" stroke="#000" stroke-width="3" fill="none"/>
<polyline points="643,273.5 660,270 680,265.5 742,258.5 802,252 823,250.5" fill="none" stroke="#00f000" stroke-width="9.5" stroke-linejoin="round" stroke-linecap="round" />
<path d="M640.3 269.8h4M642.3 267.8v4M644 269h4M646 267v4M643.4 277.2h4M645.4 275.2v4M645.8 268.9h4M647.8 266.9v4M644.7 277.2h4M646.7 275.2v4M647.6 269.1h4M649.6 267.1v4M651.2 266.6h4M653.2 264.6v4M652.5 275.7h4M654.5 273.7v4M653.7 267.8h4M655.7 265.8v4M654.8 274.2h4M656.8 272.2v4M657.2 265.4h4M659.2 263.4v4M656.4 274h4M658.4 272v4M659.4 266.1h4M661.4 264.1v4M657.8 274.1h4M659.8 272.1v4M662.2 266.1h4M664.2 264.1v4M662.2 271.7h4M664.2 269.7v4M665 263.3h4M667 261.3v4M664.4 272.7h4M666.4 270.7v4M668.3 272.2h4M670.3 270.2v4M669.8 263.3h4M671.8 261.3v4M670.6 270.8h4M672.6 268.8v4M672.7 271.4h4M674.7 269.4v4M673.1 262.1h4M675.1 260.1v4M674.2 270.8h4M676.2 268.8v4M676.9 269.5h4M678.9 267.5v4M679.4 269.2h4M681.4 267.2v4M680.3 270h4M682.3 268v4M682.7 261.7h4M684.7 259.7v4M683.1 267.9h4M685.1 265.9v4M684.1 260h4M686.1 258v4M686.7 269h4M688.7 267v4M690.3 267.5h4M692.3 265.5v4M692.3 260.3h4M694.3 258.3v4M690.9 268.4h4M692.9 266.4v4M694.8 266.6h4M696.8 264.6v4M697 258.4h4M699 256.4v4M697.6 260.3h4M699.6 258.3v4M699.1 267.5h4M701.1 265.5v4M700.5 259.9h4M702.5 257.9v4M700.5 265.9h4M702.5 263.9v4M703 266.6h4M705 264.6v4M704.1 267.4h4M706.1 265.4v4M708.3 265h4M710.3 263v4M711.7 258.5h4M713.7 256.5v4M710.8 266.4h4M712.8 264.4v4M713.5 258.3h4M715.5 256.3v4M715.8 258h4M717.8 256v4M717.1 255.9h4M719.1 253.9v4M720.3 264.8h4M722.3 262.8v4M722.5 264.8h4M724.5 262.8v4M725 255.7h4M727 253.7v4M724.5 264.7h4M726.5 262.7v4M725.9 255.6h4M727.9 253.6v4M728.5 254.8h4M730.5 252.8v4M733.6 263.5h4M735.6 261.5v4M735 261.9h4M737 259.9v4M737.5 261.7h4M739.5 259.7v4M739.1 254.4h4M741.1 252.4v4M741.2 253.6h4M743.2 251.6v4M748.3 253.9h4M750.3 251.9v4M750.2 254h4M752.2 252v4M752 262.4h4M754 260.4v4M753.1 252.5h4M755.1 250.5v4M753.5 260.7h4M755.5 258.7v4M755.4 253.4h4M757.4 251.4v4M756.3 260.7h4M758.3 258.7v4M758.2 253.6h4M760.2 251.6v4M758.3 260h4M760.3 258v4M759.4 259.3h4M761.4 257.3v4M763 251.4h4M765 249.4v4M768.1 258.9h4M770.1 256.9v4M771.5 258.8h4M773.5 256.8v4M772.6 251.7h4M774.6 249.7v4M773.1 259.2h4M775.1 257.2v4M775 251.5h4M777 249.5v4M775.3 257.9h4M777.3 255.9v4M777.7 249.9h4M779.7 247.9v4M777.1 258.8h4M779.1 256.8v4M780.1 249.9h4M782.1 247.9v4M781.5 258.1h4M783.5 256.1v4M783.9 249.6h4M785.9 247.6v4M786.2 248.7h4M788.2 246.7v4M785.8 258h4M787.8 256v4M787.4 250.3h4M789.4 248.3v4M789.9 249.9h4M791.9 247.9v4M791.6 257.8h4M793.6 255.8v4M792.8 257.8h4M794.8 255.8v4M794.7 248.1h4M796.7 246.1v4M794.8 256.1h4M796.8 254.1v4M797.9 248h4M799.9 246v4M798.4 247.6h4M800.4 245.6v4M799.8 257h4M801.8 255v4M803.7 248.6h4M805.7 246.6v4M806.5 248h4M808.5 246v4M806.1 255.8h4M808.1 253.8v4M808.8 254.6h4M810.8 252.6v4M809.8 254.3h4M811.8 252.3v4M812 246.1h4M814 244.1v4M812.4 255.6h4M814.4 253.6v4M819.8 247.7h4M821.8 245.7v4M819.5 254.5h4M821.5 252.5v4" stroke="#00f000" stroke-width="1.6" fill="none"/>
<polyline points="820,176 825,175.6 858.6,181 897.7,186.4 927,177 966,173 995,173 1015,179 1040,181" fill="none" stroke="#00f000" stroke-width="12" stroke-linejoin="round" stroke-linecap="round" />
<path d="M818.2 169.9h4M820.2 167.9v4M818.6 184.1h4M820.6 182.1v4M820.2 171h4M822.2 169v4M821.1 181.1h4M823.1 179.1v4M822.6 183.9h4M824.6 181.9v4M824.9 170.4h4M826.9 168.4v4M824.9 183.3h4M826.9 181.3v4M827.8 168.4h4M829.8 166.4v4M828 172.3h4M830 170.3v4M828.6 185.3h4M830.6 183.3v4M830.8 168.4h4M832.8 166.4v4M830.3 183.1h4M832.3 181.1v4M832.7 169.1h4M834.7 167.1v4M832.5 183.3h4M834.5 181.3v4M835.9 169.5h4M837.9 167.5v4M834.9 185.9h4M836.9 183.9v4M838 172.1h4M840 170.1v4M837 185.9h4M839 183.9v4M840.9 170.3h4M842.9 168.3v4M839.5 184.4h4M841.5 182.4v4M841.6 171.6h4M843.6 169.6v4M841.5 185h4M843.5 183v4M845 170.9h4M847 168.9v4M844.3 184.8h4M846.3 182.8v4M846.3 171.8h4M848.3 169.8v4M846.5 183.8h4M848.5 181.8v4M849.5 173.8h4M851.5 171.8v4M848.9 185h4M850.9 183v4M850.1 187.1h4M852.1 185.1v4M853 174.1h4M855 172.1v4M853.3 187.4h4M855.3 185.4v4M855.3 176h4M857.3 174v4M856.6 177h4M858.6 175v4M856.8 185.4h4M858.8 183.4v4M860.8 175.2h4M862.8 173.2v4M859.7 187.7h4M861.7 185.7v4M862.5 175.5h4M864.5 173.5v4M864.5 175.9h4M866.5 173.9v4M866.6 177.2h4M868.6 175.2v4M866.6 189.6h4M868.6 187.6v4M869.2 176.3h4M871.2 174.3v4M871.2 174.7h4M873.2 172.7v4M873.5 174.7h4M875.5 172.7v4M874.5 190.9h4M876.5 188.9v4M876.8 175.3h4M878.8 173.3v4M876.8 188.3h4M878.8 186.3v4M880.6 179.7h4M882.6 177.7v4M882.2 176.8h4M884.2 174.8v4M882.1 190.6h4M884.1 188.6v4M883.7 179.5h4M885.7 177.5v4M883.4 191.9h4M885.4 189.9v4M886.9 176.7h4M888.9 174.7v4M886 189.4h4M888 187.4v4M887.9 181.1h4M889.9 179.1v4M888.7 193.2h4M890.7 191.2v4M890.6 178.2h4M892.6 176.2v4M890.5 191h4M892.5 189v4M892.8 178.4h4M894.8 176.4v4M892.8 192.4h4M894.8 190.4v4M895.6 178.7h4M897.6 176.7v4M895.9 194.3h4M897.9 192.3v4M897.9 190.2h4M899.9 188.2v4M899.1 181.1h4M901.1 179.1v4M899.6 192.9h4M901.6 190.9v4M900.9 179.6h4M902.9 177.6v4M902.5 192.5h4M904.5 190.5v4M904.7 176.1h4M906.7 174.1v4M903.7 190.7h4M905.7 188.7v4M905.4 187.2h4M907.4 185.2v4M908.2 175.5h4M910.2 173.5v4M909.1 190.2h4M911.1 188.2v4M910.8 177.4h4M912.8 175.4v4M911.1 188.5h4M913.1 186.5v4M911.9 174h4M913.9 172v4M913.3 188h4M915.3 186v4M914.8 188.9h4M916.8 186.9v4M917.2 173.6h4M919.2 171.6v4M917.7 184.3h4M919.7 182.3v4M919.6 171.8h4M921.6 169.8v4M922 170h4M924 168v4M921.3 184.9h4M923.3 182.9v4M922.9 171.3h4M924.9 169.3v4M925.9 169.7h4M927.9 167.7v4M927.8 170.9h4M929.8 168.9v4M927.6 181h4M929.6 179v4M930.5 181.4h4M932.5 179.4v4M933.3 171.3h4M935.3 169.3v4M932.3 183.2h4M934.3 181.2v4M933.9 171h4M935.9 169v4M934.5 183.8h4M936.5 181.8v4M936.1 167.4h4M938.1 165.4v4M936.6 182.7h4M938.6 180.7v4M938.8 167.1h4M940.8 165.1v4M938.2 184.4h4M940.2 182.4v4M940.8 167.7h4M942.8 165.7v4M942 182.6h4M944 180.6v4M943.6 166.6h4M945.6 164.6v4M942.4 181.8h4M944.4 179.8v4M946 167.5h4M948 165.5v4M945.5 182.1h4M947.5 180.1v4M947.2 168.7h4M949.2 166.7v4M947.2 183.5h4M949.2 181.5v4M949.1 167.8h4M951.1 165.8v4M950.7 178.5h4M952.7 176.5v4M952.7 165.6h4M954.7 163.6v4M953.2 181.3h4M955.2 179.3v4M954 169h4M956 167v4M953.9 179.2h4M955.9 177.2v4M956.4 166.8h4M958.4 164.8v4M955.6 177.9h4M957.6 175.9v4M959.3 169.3h4M961.3 167.3v4M960 167.4h4M962 165.4v4M961.2 180.6h4M963.2 178.6v4M963 177.3h4M965 175.3v4M964.5 167.3h4M966.5 165.3v4M965.8 179.4h4M967.8 177.4v4M967.1 168.6h4M969.1 166.6v4M966.9 179.3h4M968.9 177.3v4M969.1 166.4h4M971.1 164.4v4M970.2 177.6h4M972.2 175.6v4M972.2 165h4M974.2 163v4M971.9 180.8h4M973.9 178.8v4M974.5 165.4h4M976.5 163.4v4M974.3 180.2h4M976.3 178.2v4M976.8 167.5h4M978.8 165.5v4M976.1 181.3h4M978.1 179.3v4M978.2 168.4h4M980.2 166.4v4M978.9 177.9h4M980.9 175.9v4M980.7 166h4M982.7 164v4M982.7 165.1h4M984.7 163.1v4M983 177.8h4M985 175.8v4M984.7 166.7h4M986.7 164.7v4M985.5 179.6h4M987.5 177.6v4M987.5 164.2h4M989.5 162.2v4M987 180.2h4M989 178.2v4M989.9 179.3h4M991.9 177.3v4M992.4 178.9h4M994.4 176.9v4M994.4 164.7h4M996.4 162.7v4M994.9 182.3h4M996.9 180.3v4M996.9 166.7h4M998.9 164.7v4M997.5 170.2h4M999.5 168.2v4M998 180.9h4M1000 178.9v4M1000.4 167.5h4M1002.4 165.5v4M1001.5 180.2h4M1003.5 178.2v4M1002.6 171.2h4M1004.6 169.2v4M1003.2 182.9h4M1005.2 180.9v4M1005.9 170.7h4M1007.9 168.7v4M1007.9 169.5h4M1009.9 167.5v4M1007.5 181.9h4M1009.5 179.9v4M1008.8 169.6h4M1010.8 167.6v4M1008.7 182.8h4M1010.7 180.8v4M1011.3 173.5h4M1013.3 171.5v4M1011.6 183.4h4M1013.6 181.4v4M1014.1 175h4M1016.1 173v4M1014.6 186.9h4M1016.6 184.9v4M1015.9 171.7h4M1017.9 169.7v4M1016.7 183.8h4M1018.7 181.8v4M1018.1 175h4M1020.1 173v4M1018 183.8h4M1020 181.8v4M1021.1 175.6h4M1023.1 173.6v4M1021.2 186.4h4M1023.2 184.4v4M1023.1 171h4M1025.1 169v4M1022.4 187.8h4M1024.4 185.8v4M1025.1 171h4M1027.1 169v4M1024.4 187.4h4M1026.4 185.4v4M1026.5 173.9h4M1028.5 171.9v4M1026.6 186.5h4M1028.6 184.5v4M1029.4 171.8h4M1031.4 169.8v4M1029.5 187h4M1031.5 185v4M1030.9 175h4M1032.9 173v4M1032 185.3h4M1034 183.3v4M1034.3 173.8h4M1036.3 171.8v4M1034.6 185.5h4M1036.6 183.5v4M1034.9 173h4M1036.9 171v4M1035.3 185h4M1037.3 183v4" stroke="#00f000" stroke-width="1.6" fill="none"/>
<path d="M813.8 194.8h8.4M818 189.8v10M821.3 195.3h8.4M825.5 190.3v10M828.8 197.1h8.4M833 192.1v10M836.3 194.8h8.4M840.5 189.8v10M843.8 195h8.4M848 190v10M851.3 195.4h8.4M855.5 190.4v10M858.8 193.4h8.4M863 188.4v10M866.3 195.1h8.4M870.5 190.1v10M873.8 195.6h8.4M878 190.6v10M881.3 196.5h8.4M885.5 191.5v10M888.8 193h8.4M893 188v10M896.3 194h8.4M900.5 189v10M903.8 192.4h8.4M908 187.4v10M911.3 195.5h8.4M915.5 190.5v10M918.8 194.4h8.4M923 189.4v10M926.3 190.7h8.4M930.5 185.7v10M933.8 194.9h8.4M938 189.9v10M941.3 194.3h8.4M945.5 189.3v10M948.8 192.2h8.4M953 187.2v10M956.3 191.6h8.4M960.5 186.6v10M963.8 189.5h8.4M968 184.5v10M971.3 189h8.4M975.5 184v10M978.8 191.7h8.4M983 186.7v10M986.3 189.6h8.4M990.5 184.6v10M993.8 190.4h8.4M998 185.4v10M1001.3 190.8h8.4M1005.5 185.8v10M1008.8 190h8.4M1013 185v10M1016.3 192.3h8.4M1020.5 187.3v10M1023.8 192.4h8.4M1028 187.4v10M1031.3 194.6h8.4M1035.5 189.6v10" stroke="#22e022" stroke-width="2.1" fill="none"/>
<path d="M820.8 218.8h8.4M825 213.8v10M828.8 217.9h8.4M833 212.9v10M836.8 215.9h8.4M841 210.9v10M844.8 210.6h8.4M849 205.6v10M852.8 211.8h8.4M857 206.8v10M860.8 218.5h8.4M865 213.5v10M868.8 220.3h8.4M873 215.3v10M876.8 222.8h8.4M881 217.8v10M884.8 221.2h8.4M889 216.2v10M892.8 219.9h8.4M897 214.9v10M900.8 218.8h8.4M905 213.8v10M908.8 218.7h8.4M913 213.7v10M916.8 214.8h8.4M921 209.8v10M924.8 215.7h8.4M929 210.7v10M932.8 213h8.4M937 208v10M940.8 216.4h8.4M945 211.4v10M948.8 210.3h8.4M953 205.3v10M956.8 214.2h8.4M961 209.2v10M964.8 212.1h8.4M969 207.1v10M972.8 218.2h8.4M977 213.2v10M980.8 217.2h8.4M985 212.2v10M988.8 217.9h8.4M993 212.9v10M996.8 220.8h8.4M1001 215.8v10M1004.8 216.1h8.4M1009 211.1v10M1012.8 216.6h8.4M1017 211.6v10M1020.8 222h8.4M1025 217v10M1028.8 219.8h8.4M1033 214.8v10" stroke="#22e022" stroke-width="2.1" fill="none"/>
<path d="M710.8 306.1h8.4M715 301.1v10M717.3 307.2h8.4M721.5 302.2v10M723.8 306.7h8.4M728 301.7v10M730.3 305.4h8.4M734.5 300.4v10M736.8 305.6h8.4M741 300.6v10M743.3 305.3h8.4M747.5 300.3v10M749.8 305.4h8.4M754 300.4v10M756.3 305.4h8.4M760.5 300.4v10M762.8 303.7h8.4M767 298.7v10M769.3 303.3h8.4M773.5 298.3v10M775.8 304.6h8.4M780 299.6v10M782.3 303.5h8.4M786.5 298.5v10M788.8 303.9h8.4M793 298.9v10M795.3 302h8.4M799.5 297v10M801.8 302.6h8.4M806 297.6v10M808.3 302.9h8.4M812.5 297.9v10M814.8 301.6h8.4M819 296.6v10" stroke="#22e022" stroke-width="2.1" fill="none"/>
<path d="M890.5 363.5h6M893.5 361.5v4" stroke="#00f000" stroke-width="2.5" fill="none"/>
<path d="M863.5 173.7h8M867.5 169.7v8M828.9 175.6h8M832.9 171.6v8M821.1 170.6h8M825.1 166.6v8M848.6 174.5h8M852.6 170.5v8M823 172.8h8M827 168.8v8M845 177h8M849 173v8M815.8 176.6h8M819.8 172.6v8M824.7 175.2h8M828.7 171.2v8M845.5 176.8h8M849.5 172.8v8M825.3 168.9h8M829.3 164.9v8M819.4 174.5h8M823.4 170.5v8M847.1 168.9h8M851.1 164.9v8M825.9 165.8h8M829.9 161.8v8M826.4 172.1h8M830.4 168.1v8M841.1 174.9h8M845.1 170.9v8M818.7 175.2h8M822.7 171.2v8M874.9 181.4h8M878.9 177.4v8M860.1 179.9h8M864.1 175.9v8M819.9 170.4h8M823.9 166.4v8M818.9 174.5h8M822.9 170.5v8M847.4 167.7h8M851.4 163.7v8M841.6 175.8h8M845.6 171.8v8M848.2 168h8M852.2 164v8M872.1 172h8M876.1 168v8M866.3 182.7h8M870.3 178.7v8M860.6 181.2h8M864.6 177.2v8M846.9 169h8M850.9 165v8M843.3 175.4h8M847.3 171.4v8M861.6 174.1h8M865.6 170.1v8M872.7 171.8h8M876.7 167.8v8M844.7 166.4h8M848.7 162.4v8M836.2 178.2h8M840.2 174.2v8M821.3 177.3h8M825.3 173.3v8M870.1 179.8h8M874.1 175.8v8M817.5 170.3h8M821.5 166.3v8M856.9 169.4h8M860.9 165.4v8M832.5 166.3h8M836.5 162.3v8M866.3 182h8M870.3 178v8M871.3 180.8h8M875.3 176.8v8M849.7 167.5h8M853.7 163.5v8" stroke="#00f000" stroke-width="2.2" fill="none"/>
<polyline points="643,595.5 701,596.5 762,590.5 805,588" fill="none" stroke="#ff0000" stroke-width="9" stroke-linejoin="round" stroke-linecap="round" />
<path d="M641.4 590.9h4M643.4 588.9v4M642.5 592.3h4M644.5 590.3v4M642.5 600.2h4M644.5 598.2v4M645 592.4h4M647 590.4v4M645.6 600.6h4M647.6 598.6v4M646.9 592.3h4M648.9 590.3v4M656.4 590.7h4M658.4 588.7v4M658.5 599.4h4M660.5 597.4v4M661.4 593h4M663.4 591v4M667.3 591.4h4M669.3 589.4v4M667.4 599.1h4M669.4 597.1v4M669.8 592.1h4M671.8 590.1v4M669.6 598.9h4M671.6 596.9v4M671.2 592.8h4M673.2 590.8v4M672.1 598.8h4M674.1 596.8v4M674.9 600.7h4M676.9 598.7v4M676.8 593.2h4M678.8 591.2v4M679.1 599.9h4M681.1 597.9v4M682.5 591.2h4M684.5 589.2v4M685.2 590.8h4M687.2 588.8v4M687.4 591.9h4M689.4 589.9v4M689.1 591.7h4M691.1 589.7v4M689.8 599.3h4M691.8 597.3v4M690.7 593.2h4M692.7 591.2v4M693.7 599h4M695.7 597v4M695 593.7h4M697 591.7v4M697.7 593.1h4M699.7 591.1v4M700.1 592.5h4M702.1 590.5v4M702.6 592.6h4M704.6 590.6v4M705.1 592h4M707.1 590v4M704.8 598.5h4M706.8 596.5v4M709.9 590.9h4M711.9 588.9v4M708.9 599.8h4M710.9 597.8v4M710.8 591.9h4M712.8 589.9v4M711.2 597.9h4M713.2 595.9v4M713.8 590.3h4M715.8 588.3v4M713 599.9h4M715 597.9v4M715.5 590.7h4M717.5 588.7v4M715.1 598.7h4M717.1 596.7v4M717.4 599.6h4M719.4 597.6v4M719.3 590.7h4M721.3 588.7v4M720.1 598h4M722.1 596v4M723.9 589.9h4M725.9 587.9v4M726.9 588.6h4M728.9 586.6v4M726.3 596.3h4M728.3 594.3v4M728.7 597.5h4M730.7 595.5v4M730.6 588.4h4M732.6 586.4v4M735.5 587.6h4M737.5 585.6v4M740.1 595.4h4M742.1 593.4v4M743.1 595.6h4M745.1 593.6v4M743.5 589.3h4M745.5 587.3v4M743.6 596.7h4M745.6 594.7v4M751.7 587h4M753.7 585v4M752.4 586.4h4M754.4 584.4v4M753.1 596.7h4M755.1 594.7v4M755.3 586.1h4M757.3 584.1v4M754.9 593.5h4M756.9 591.5v4M757.1 585.4h4M759.1 583.4v4M760.3 596h4M762.3 594v4M761.9 587.1h4M763.9 585.1v4M764 587.2h4M766 585.2v4M764.3 593.3h4M766.3 591.3v4M765.8 585.2h4M767.8 583.2v4M766 594.4h4M768 592.4v4M769.3 594.1h4M771.3 592.1v4M771.1 585.1h4M773.1 583.1v4M769.8 595.3h4M771.8 593.3v4M772.3 594.8h4M774.3 592.8v4M776.1 585.6h4M778.1 583.6v4M775.4 593.6h4M777.4 591.6v4M776.4 585.4h4M778.4 583.4v4M777.1 594.3h4M779.1 592.3v4M780 586.7h4M782 584.7v4M780.1 594.6h4M782.1 592.6v4M782.7 584h4M784.7 582v4M788.9 591.7h4M790.9 589.7v4M790.8 593.1h4M792.8 591.1v4M793.6 583.8h4M795.6 581.8v4M792.8 593.5h4M794.8 591.5v4M794.9 593.8h4M796.9 591.8v4M798 592.9h4M800 590.9v4M799.4 590.9h4M801.4 588.9v4M802.2 583.1h4M804.2 581.1v4" stroke="#ff0000" stroke-width="1.6" fill="none"/>
<path d="M647.8 661.2h8.4M652 656.2v10M655.8 662.7h8.4M660 657.7v10M663.8 663h8.4M668 658v10M671.8 663.9h8.4M676 658.9v10M679.8 662.9h8.4M684 657.9v10M687.8 663.2h8.4M692 658.2v10M695.8 664.5h8.4M700 659.5v10M703.8 664.2h8.4M708 659.2v10M711.8 663.3h8.4M716 658.3v10M719.8 664h8.4M724 659v10M727.8 663.3h8.4M732 658.3v10M735.8 663.9h8.4M740 658.9v10M743.8 662.4h8.4M748 657.4v10M751.8 662.5h8.4M756 657.5v10M759.8 663.7h8.4M764 658.7v10M767.8 662.4h8.4M772 657.4v10M775.8 662h8.4M780 657v10M783.8 662.9h8.4M788 657.9v10M791.8 662.4h8.4M796 657.4v10" stroke="#ee1c1c" stroke-width="2.1" fill="none"/>
<path d="M812.8 642.9h8.4M817 637.9v10M820.8 641h8.4M825 636v10M828.8 642.5h8.4M833 637.5v10M836.8 648.2h8.4M841 643.2v10M844.8 649.6h8.4M849 644.6v10M852.8 647.4h8.4M857 642.4v10M860.8 648.9h8.4M865 643.9v10M868.8 648.2h8.4M873 643.2v10M876.8 648.3h8.4M881 643.3v10M884.8 648.4h8.4M889 643.4v10M892.8 646.6h8.4M897 641.6v10M900.8 646.6h8.4M905 641.6v10M908.8 647.3h8.4M913 642.3v10M916.8 646.4h8.4M921 641.4v10M924.8 646.3h8.4M929 641.3v10M932.8 646.2h8.4M937 641.2v10M940.8 647.4h8.4M945 642.4v10M948.8 647.4h8.4M953 642.4v10M956.8 647.1h8.4M961 642.1v10M964.8 645.9h8.4M969 640.9v10M972.8 647.3h8.4M977 642.3v10M980.8 646.4h8.4M985 641.4v10M988.8 645.8h8.4M993 640.8v10M996.8 646.2h8.4M1001 641.2v10M1004.8 646h8.4M1009 641v10M1012.8 645.3h8.4M1017 640.3v10M1020.8 646.2h8.4M1025 641.2v10M1028.8 645.7h8.4M1033 640.7v10" stroke="#ee1c1c" stroke-width="2.1" fill="none"/>
<path d="M721.3 576.7h8M725.3 571.7v10M806.6 549.3h8M810.6 544.3v10M801 725h8M805 720v10M806 725h8M810 720v10M1027 726h8M1031 721v10" stroke="#ee1c1c" stroke-width="2" fill="none"/>
<path d="M806 396h10M811 393v6M806 400h10M811 397v6M806 404h10M811 401v6M806 409h10M811 406v6M806 414h10M811 411v6M807 419h10M812 416v6" stroke="#ff0000" stroke-width="2.2" fill="none"/>
<polygon points="808,418 816,421 826,424 838,429 834,435 822,443 813,434" fill="#ff0000"/>
<polyline points="808,425 818,428 830,430" fill="none" stroke="#ff0000" stroke-width="8" stroke-linejoin="round" stroke-linecap="round" />
<path d="M805.8 421.8h4M807.8 419.8v4M806.3 428h4M808.3 426v4M807.2 422.1h4M809.2 420.1v4M807.5 428.5h4M809.5 426.5v4M811.3 430.3h4M813.3 428.3v4M813.2 422.7h4M815.2 420.7v4M815.1 424.5h4M817.1 422.5v4M814.4 430.2h4M816.4 428.2v4M816.7 424.2h4M818.7 422.2v4M817.9 431.8h4M819.9 429.8v4M820.1 426.4h4M822.1 424.4v4M820.7 431.5h4M822.7 429.5v4M822.7 426.1h4M824.7 424.1v4M825.8 433.7h4M827.8 431.7v4" stroke="#ff0000" stroke-width="1.6" fill="none"/>
<polyline points="799,489 810,497" fill="none" stroke="#ff0000" stroke-width="8" stroke-linejoin="round" stroke-linecap="round" />
<path d="M797.9 485h4M799.9 483v4M797.4 492.9h4M799.4 490.9v4M799 492.7h4M801 490.7v4M801 495.5h4M803 493.5v4M804.9 490.9h4M806.9 488.9v4" stroke="#ff0000" stroke-width="1.6" fill="none"/>
<polyline points="830,490 862,491" fill="none" stroke="#ff0000" stroke-width="10" stroke-linejoin="round" stroke-linecap="round" />
<path d="M827.7 485.3h4M829.7 483.3v4M828 494.2h4M830 492.2v4M829.7 485.9h4M831.7 483.9v4M829.8 494.8h4M831.8 492.8v4M837.3 486.7h4M839.3 484.7v4M839.7 485.6h4M841.7 483.6v4M840.2 486.7h4M842.2 484.7v4M843.5 485.7h4M845.5 483.7v4M845.8 485.5h4M847.8 483.5v4M845.6 493.8h4M847.6 491.8v4M848.1 495.3h4M850.1 493.3v4M850.4 487.2h4M852.4 485.2v4M850 494.7h4M852 492.7v4M852.4 486h4M854.4 484v4M852.8 494.6h4M854.8 492.6v4M853.7 494h4M855.7 492v4M856.9 487.7h4M858.9 485.7v4M857.4 494.4h4M859.4 492.4v4" stroke="#ff0000" stroke-width="1.6" fill="none"/>
<polyline points="860,476 896,479" fill="none" stroke="#ff0000" stroke-width="10" stroke-linejoin="round" stroke-linecap="round" />
<path d="M860 471.9h4M862 469.9v4M861.9 473h4M863.9 471v4M861.9 480.2h4M863.9 478.2v4M864.2 472.7h4M866.2 470.7v4M866.2 473.6h4M868.2 471.6v4M867.3 480.7h4M869.3 478.7v4M869.5 480.2h4M871.5 478.2v4M870.8 481.7h4M872.8 479.7v4M878.3 473.3h4M880.3 471.3v4M880.3 474.5h4M882.3 472.5v4M879 482.6h4M881 480.6v4M881.4 473.8h4M883.4 471.8v4M881.9 482.3h4M883.9 480.3v4M886.4 481.4h4M888.4 479.4v4M888.3 473.8h4M890.3 471.8v4M888.6 482.3h4M890.6 480.3v4M891.4 482.5h4M893.4 480.5v4M893.6 475.4h4M895.6 473.4v4" stroke="#ff0000" stroke-width="1.6" fill="none"/>
<polyline points="888,496 960,493 1035,489" fill="none" stroke="#ff0000" stroke-width="10" stroke-linejoin="round" stroke-linecap="round" />
<path d="M891.2 491.2h4M893.2 489.2v4M893.6 499.8h4M895.6 497.8v4M895.7 491.8h4M897.7 489.8v4M894.4 499.2h4M896.4 497.2v4M897.3 499.6h4M899.3 497.6v4M899.3 498.7h4M901.3 496.7v4M900.8 492.1h4M902.8 490.1v4M902.9 490.5h4M904.9 488.5v4M904 498.3h4M906 496.3v4M904.8 498.8h4M906.8 496.8v4M908.3 498.4h4M910.3 496.4v4M910.5 498.4h4M912.5 496.4v4M913.3 498.3h4M915.3 496.3v4M919.2 491.3h4M921.2 489.3v4M920 498.7h4M922 496.7v4M920.2 499.7h4M922.2 497.7v4M924.3 499.3h4M926.3 497.3v4M924.7 489.4h4M926.7 487.4v4M927.5 490.1h4M929.5 488.1v4M927 499.1h4M929 497.1v4M930.3 491h4M932.3 489v4M929.1 497.3h4M931.1 495.3v4M931.2 489.8h4M933.2 487.8v4M932.3 498.7h4M934.3 496.7v4M933.7 490.2h4M935.7 488.2v4M933.8 498h4M935.8 496v4M936.2 490.3h4M938.2 488.3v4M940.4 490.7h4M942.4 488.7v4M944 488.5h4M946 486.5v4M942.8 497.5h4M944.8 495.5v4M946.2 497.2h4M948.2 495.2v4M947.4 488h4M949.4 486v4M950 490.1h4M952 488.1v4M950.2 498.6h4M952.2 496.6v4M952.1 487.9h4M954.1 485.9v4M954.9 496.9h4M956.9 494.9v4M955.5 487.6h4M957.5 485.6v4M958.8 497.5h4M960.8 495.5v4M959.9 489.1h4M961.9 487.1v4M962.8 497.9h4M964.8 495.9v4M966.1 487.6h4M968.1 485.6v4M964.8 497.8h4M966.8 495.8v4M967.1 498h4M969.1 496v4M968.9 489.3h4M970.9 487.3v4M968.6 497.4h4M970.6 495.4v4M971.1 488.7h4M973.1 486.7v4M973.7 487.4h4M975.7 485.4v4M974.1 495.7h4M976.1 493.7v4M976 488.1h4M978 486.1v4M975.8 496.8h4M977.8 494.8v4M979.8 486.9h4M981.8 484.9v4M979.9 495.7h4M981.9 493.7v4M985.8 487.7h4M987.8 485.7v4M992.1 496.1h4M994.1 494.1v4M993.2 495h4M995.2 493v4M995.9 487.2h4M997.9 485.2v4M995.3 496.2h4M997.3 494.2v4M1003.6 486.9h4M1005.6 484.9v4M1004 486.8h4M1006 484.8v4M1003.9 493.7h4M1005.9 491.7v4M1007.4 486.2h4M1009.4 484.2v4M1007.3 495.1h4M1009.3 493.1v4M1009.2 485.5h4M1011.2 483.5v4M1009.1 495.7h4M1011.1 493.7v4M1013 486.7h4M1015 484.7v4M1013.4 493.5h4M1015.4 491.5v4M1016.3 485h4M1018.3 483v4M1018.8 486.3h4M1020.8 484.3v4M1022.3 485.8h4M1024.3 483.8v4M1021.9 493.5h4M1023.9 491.5v4M1025.2 493.9h4M1027.2 491.9v4M1026.6 485.5h4M1028.6 483.5v4M1027.6 494.6h4M1029.6 492.6v4M1029.2 486h4M1031.2 484v4M1029.7 492.3h4M1031.7 490.3v4" stroke="#ff0000" stroke-width="1.6" fill="none"/>
<line x1="179" y1="725.8" x2="179" y2="719.8" stroke="#000" stroke-width="2.4"/>
<line x1="179" y1="1.3" x2="179" y2="7.3" stroke="#000" stroke-width="2.4"/>
<line x1="179" y1="356.6" x2="179" y2="368.6" stroke="#000" stroke-width="2.4"/>
<line x1="254" y1="725.8" x2="254" y2="715.8" stroke="#000" stroke-width="2.4"/>
<line x1="254" y1="1.3" x2="254" y2="11.3" stroke="#000" stroke-width="2.4"/>
<line x1="254" y1="352.6" x2="254" y2="372.6" stroke="#000" stroke-width="2.4"/>
<line x1="329" y1="725.8" x2="329" y2="719.8" stroke="#000" stroke-width="2.4"/>
<line x1="329" y1="1.3" x2="329" y2="7.3" stroke="#000" stroke-width="2.4"/>
<line x1="329" y1="356.6" x2="329" y2="368.6" stroke="#000" stroke-width="2.4"/>
<line x1="404" y1="725.8" x2="404" y2="715.8" stroke="#000" stroke-width="2.4"/>
<line x1="404" y1="1.3" x2="404" y2="11.3" stroke="#000" stroke-width="2.4"/>
<line x1="404" y1="352.6" x2="404" y2="372.6" stroke="#000" stroke-width="2.4"/>
<line x1="479" y1="725.8" x2="479" y2="719.8" stroke="#000" stroke-width="2.4"/>
<line x1="479" y1="1.3" x2="479" y2="7.3" stroke="#000" stroke-width="2.4"/>
<line x1="479" y1="356.6" x2="479" y2="368.6" stroke="#000" stroke-width="2.4"/>
<line x1="554" y1="725.8" x2="554" y2="715.8" stroke="#000" stroke-width="2.4"/>
<line x1="554" y1="1.3" x2="554" y2="11.3" stroke="#000" stroke-width="2.4"/>
<line x1="554" y1="352.6" x2="554" y2="372.6" stroke="#000" stroke-width="2.4"/>
<line x1="629" y1="725.8" x2="629" y2="719.8" stroke="#000" stroke-width="2.4"/>
<line x1="629" y1="1.3" x2="629" y2="7.3" stroke="#000" stroke-width="2.4"/>
<line x1="629" y1="356.6" x2="629" y2="368.6" stroke="#000" stroke-width="2.4"/>
<line x1="721" y1="725.8" x2="721" y2="719.8" stroke="#000" stroke-width="2.4"/>
<line x1="721" y1="1.3" x2="721" y2="7.3" stroke="#000" stroke-width="2.4"/>
<line x1="721" y1="356.6" x2="721" y2="368.6" stroke="#000" stroke-width="2.4"/>
<line x1="796" y1="725.8" x2="796" y2="715.8" stroke="#000" stroke-width="2.4"/>
<line x1="796" y1="1.3" x2="796" y2="11.3" stroke="#000" stroke-width="2.4"/>
<line x1="796" y1="352.6" x2="796" y2="372.6" stroke="#000" stroke-width="2.4"/>
<line x1="871" y1="725.8" x2="871" y2="719.8" stroke="#000" stroke-width="2.4"/>
<line x1="871" y1="1.3" x2="871" y2="7.3" stroke="#000" stroke-width="2.4"/>
<line x1="871" y1="356.6" x2="871" y2="368.6" stroke="#000" stroke-width="2.4"/>
<line x1="946" y1="725.8" x2="946" y2="715.8" stroke="#000" stroke-width="2.4"/>
<line x1="946" y1="1.3" x2="946" y2="11.3" stroke="#000" stroke-width="2.4"/>
<line x1="946" y1="352.6" x2="946" y2="372.6" stroke="#000" stroke-width="2.4"/>
<line x1="1021" y1="725.8" x2="1021" y2="719.8" stroke="#000" stroke-width="2.4"/>
<line x1="1021" y1="1.3" x2="1021" y2="7.3" stroke="#000" stroke-width="2.4"/>
<line x1="1021" y1="356.6" x2="1021" y2="368.6" stroke="#000" stroke-width="2.4"/>
<line x1="1096" y1="725.8" x2="1096" y2="715.8" stroke="#000" stroke-width="2.4"/>
<line x1="1096" y1="1.3" x2="1096" y2="11.3" stroke="#000" stroke-width="2.4"/>
<line x1="1096" y1="352.6" x2="1096" y2="372.6" stroke="#000" stroke-width="2.4"/>
<line x1="1171" y1="725.8" x2="1171" y2="719.8" stroke="#000" stroke-width="2.4"/>
<line x1="1171" y1="1.3" x2="1171" y2="7.3" stroke="#000" stroke-width="2.4"/>
<line x1="1171" y1="356.6" x2="1171" y2="368.6" stroke="#000" stroke-width="2.4"/>
<line x1="104" y1="343.7" x2="114" y2="343.7" stroke="#000" stroke-width="2.4"/>
<line x1="104" y1="303.5" x2="110" y2="303.5" stroke="#000" stroke-width="2.4"/>
<line x1="104" y1="263.3" x2="114" y2="263.3" stroke="#000" stroke-width="2.4"/>
<line x1="104" y1="223" x2="110" y2="223" stroke="#000" stroke-width="2.4"/>
<line x1="104" y1="182.8" x2="114" y2="182.8" stroke="#000" stroke-width="2.4"/>
<line x1="104" y1="142.6" x2="110" y2="142.6" stroke="#000" stroke-width="2.4"/>
<line x1="104" y1="102.4" x2="114" y2="102.4" stroke="#000" stroke-width="2.4"/>
<line x1="104" y1="62.2" x2="110" y2="62.2" stroke="#000" stroke-width="2.4"/>
<line x1="104" y1="22" x2="114" y2="22" stroke="#000" stroke-width="2.4"/>
<line x1="104" y1="705.7" x2="114" y2="705.7" stroke="#000" stroke-width="2.4"/>
<line x1="104" y1="665.5" x2="110" y2="665.5" stroke="#000" stroke-width="2.4"/>
<line x1="104" y1="625.3" x2="114" y2="625.3" stroke="#000" stroke-width="2.4"/>
<line x1="104" y1="585" x2="110" y2="585" stroke="#000" stroke-width="2.4"/>
<line x1="104" y1="544.8" x2="114" y2="544.8" stroke="#000" stroke-width="2.4"/>
<line x1="104" y1="504.6" x2="110" y2="504.6" stroke="#000" stroke-width="2.4"/>
<line x1="104" y1="464.4" x2="114" y2="464.4" stroke="#000" stroke-width="2.4"/>
<line x1="104" y1="424.2" x2="110" y2="424.2" stroke="#000" stroke-width="2.4"/>
<line x1="104" y1="384" x2="114" y2="384" stroke="#000" stroke-width="2.4"/>
<line x1="1188" y1="298.1" x2="1182" y2="298.1" stroke="#000" stroke-width="2.4"/>
<line x1="1188" y1="233.6" x2="1178" y2="233.6" stroke="#000" stroke-width="2.4"/>
<line x1="1188" y1="169.1" x2="1182" y2="169.1" stroke="#000" stroke-width="2.4"/>
<line x1="1188" y1="104.6" x2="1178" y2="104.6" stroke="#000" stroke-width="2.4"/>
<line x1="1188" y1="40.1" x2="1182" y2="40.1" stroke="#000" stroke-width="2.4"/>
<line x1="1188" y1="661.2" x2="1182" y2="661.2" stroke="#000" stroke-width="2.4"/>
<line x1="1188" y1="596.6" x2="1178" y2="596.6" stroke="#000" stroke-width="2.4"/>
<line x1="1188" y1="532" x2="1182" y2="532" stroke="#000" stroke-width="2.4"/>
<line x1="1188" y1="467.4" x2="1178" y2="467.4" stroke="#000" stroke-width="2.4"/>
<line x1="1188" y1="402.8" x2="1182" y2="402.8" stroke="#000" stroke-width="2.4"/>
<line x1="104" y1="0" x2="104" y2="727.1" stroke="#000" stroke-width="2.7"/>
<line x1="1188" y1="0" x2="1188" y2="727.1" stroke="#000" stroke-width="2.7"/>
<line x1="646" y1="0" x2="646" y2="727.1" stroke="#000" stroke-width="2.7"/>
<line x1="102.7" y1="1.3" x2="1189.3" y2="1.3" stroke="#000" stroke-width="2.7"/>
<line x1="102.7" y1="362.6" x2="1189.3" y2="362.6" stroke="#000" stroke-width="2.7"/>
<line x1="102.7" y1="725.8" x2="1189.3" y2="725.8" stroke="#000" stroke-width="2.7"/>
<text transform="translate(44.54 31.01) scale(0.9779 1)" font-size="29.66" font-weight="normal" fill="#000" stroke="#000" stroke-width="0.4" stroke-linejoin="round">240</text>
<text transform="translate(44.54 111.43) scale(0.9779 1)" font-size="29.66" font-weight="normal" fill="#000" stroke="#000" stroke-width="0.4" stroke-linejoin="round">220</text>
<text transform="translate(44.54 191.85) scale(0.9779 1)" font-size="29.66" font-weight="normal" fill="#000" stroke="#000" stroke-width="0.4" stroke-linejoin="round">200</text>
<text transform="translate(43.75 272.27) scale(0.9941 1)" font-size="29.66" font-weight="normal" fill="#000" stroke="#000" stroke-width="0.4" stroke-linejoin="round">180</text>
<text transform="translate(43.75 352.69) scale(0.9941 1)" font-size="29.66" font-weight="normal" fill="#000" stroke="#000" stroke-width="0.4" stroke-linejoin="round">160</text>
<text transform="translate(44.54 393.01) scale(0.9779 1)" font-size="29.66" font-weight="normal" fill="#000" stroke="#000" stroke-width="0.4" stroke-linejoin="round">240</text>
<text transform="translate(44.54 473.43) scale(0.9779 1)" font-size="29.66" font-weight="normal" fill="#000" stroke="#000" stroke-width="0.4" stroke-linejoin="round">220</text>
<text transform="translate(44.54 553.85) scale(0.9779 1)" font-size="29.66" font-weight="normal" fill="#000" stroke="#000" stroke-width="0.4" stroke-linejoin="round">200</text>
<text transform="translate(43.75 634.27) scale(0.9941 1)" font-size="29.66" font-weight="normal" fill="#000" stroke="#000" stroke-width="0.4" stroke-linejoin="round">180</text>
<text transform="translate(43.75 714.69) scale(0.9941 1)" font-size="29.66" font-weight="normal" fill="#000" stroke="#000" stroke-width="0.4" stroke-linejoin="round">160</text>
<text transform="translate(94.60 760.82) scale(0.9764 1)" font-size="29.10" font-weight="normal" fill="#000" stroke="#000" stroke-width="0.4" stroke-linejoin="round">0</text>
<text transform="translate(220.04 760.82) scale(1.0320 1)" font-size="29.10" font-weight="normal" fill="#000" stroke="#000" stroke-width="0.4" stroke-linejoin="round">1000</text>
<text transform="translate(370.43 760.82) scale(1.0322 1)" font-size="29.10" font-weight="normal" fill="#000" stroke="#000" stroke-width="0.4" stroke-linejoin="round">2000</text>
<text transform="translate(520.61 760.82) scale(1.0323 1)" font-size="29.10" font-weight="normal" fill="#000" stroke="#000" stroke-width="0.4" stroke-linejoin="round">3000</text>
<text transform="translate(636.60 760.82) scale(0.9764 1)" font-size="29.10" font-weight="normal" fill="#000" stroke="#000" stroke-width="0.4" stroke-linejoin="round">0</text>
<text transform="translate(762.04 760.82) scale(1.0320 1)" font-size="29.10" font-weight="normal" fill="#000" stroke="#000" stroke-width="0.4" stroke-linejoin="round">1000</text>
<text transform="translate(912.43 760.82) scale(1.0322 1)" font-size="29.10" font-weight="normal" fill="#000" stroke="#000" stroke-width="0.4" stroke-linejoin="round">2000</text>
<text transform="translate(1062.61 760.82) scale(1.0323 1)" font-size="29.10" font-weight="normal" fill="#000" stroke="#000" stroke-width="0.4" stroke-linejoin="round">3000</text>
<text transform="translate(1197.24 373.52) scale(0.9612 1)" font-size="28.25" font-weight="normal" fill="#000" stroke="#000" stroke-width="0.4" stroke-linejoin="round">0</text>
<text transform="translate(1197.16 243.92) scale(1.0362 1)" font-size="28.25" font-weight="normal" fill="#000" stroke="#000" stroke-width="0.4" stroke-linejoin="round">0.1</text>
<text transform="translate(1197.16 114.32) scale(1.0362 1)" font-size="28.25" font-weight="normal" fill="#000" stroke="#000" stroke-width="0.4" stroke-linejoin="round">0.2</text>
<text transform="translate(1197.24 735.52) scale(0.9612 1)" font-size="28.25" font-weight="normal" fill="#000" stroke="#000" stroke-width="0.4" stroke-linejoin="round">0</text>
<text transform="translate(1197.16 606.32) scale(1.0362 1)" font-size="28.25" font-weight="normal" fill="#000" stroke="#000" stroke-width="0.4" stroke-linejoin="round">0.1</text>
<text transform="translate(1197.16 477.12) scale(1.0362 1)" font-size="28.25" font-weight="normal" fill="#000" stroke="#000" stroke-width="0.4" stroke-linejoin="round">0.2</text>
<text transform="translate(24.00 180.60) rotate(-90) scale(1.0000 1)" font-size="30.45" font-weight="bold" fill="#000" text-anchor="middle">Capacity (mAh)</text>
<text transform="translate(1271.50 181.00) rotate(-90) scale(1.0000 1)" font-size="29.5" font-weight="bold" fill="#000" text-anchor="middle"><tspan font-weight="normal">Δ</tspan>V (V)</text>
<text transform="translate(24.00 542.60) rotate(-90) scale(1.0000 1)" font-size="30.45" font-weight="bold" fill="#000" text-anchor="middle">Capacity (mAh)</text>
<text transform="translate(1271.50 543.00) rotate(-90) scale(1.0000 1)" font-size="29.5" font-weight="bold" fill="#000" text-anchor="middle"><tspan font-weight="normal">Δ</tspan>V (V)</text>
<text x="371.7" y="794" font-size="30.2" font-weight="bold" text-anchor="middle">Cycle</text>
<text x="913.1" y="794" font-size="30.2" font-weight="bold" text-anchor="middle">Cycle</text>
<path d="M158.13,27.90 A11.0,15.0 0 1 0 158.13,42.90 L152.70,41.22 A4.2,7.6 0 1 1 152.70,29.58 Z" fill="#000"/>
<path d="M164.3,9.0 Q166.3,7.5 171.3,8.0 Q183.7,34.2 171.3,60.5 Q166.3,61.0 164.3,59.5 Q172.3,34.2 164.3,9.0 Z" fill="#000"/>
<text transform="translate(137.44 411.22) scale(0.8030 1)" font-size="49.28" font-weight="bold" fill="#000" stroke="#000" stroke-width="1.4" stroke-linejoin="round">a</text>
<path d="M169.2,372.0 Q171.2,370.5 176.2,371.0 Q188.2,397.1 176.2,423.2 Q171.2,423.7 169.2,422.2 Q177.2,397.1 169.2,372.0 Z" fill="#000"/>
<text transform="translate(674.90 52.68) scale(0.8767 1)" font-size="52.97" font-weight="bold" fill="#000" stroke="#000" stroke-width="1.6" stroke-linejoin="round">d</text>
<path d="M708.5,14.0 Q710.5,12.5 715.5,13.0 Q727.5,38.8 715.5,64.5 Q710.5,65.0 708.5,63.5 Q716.5,38.8 708.5,14.0 Z" fill="#000"/>
<text transform="translate(674.44 419.08) scale(0.9234 1)" font-size="53.51" font-weight="bold" fill="#000" stroke="#000" stroke-width="1.6" stroke-linejoin="round">b</text>
<path d="M708.4,380.0 Q710.4,378.5 715.4,379.0 Q726.2,405.0 715.4,431.0 Q710.4,431.5 708.4,430.0 Q716.4,405.0 708.4,380.0 Z" fill="#000"/>
<text transform="translate(418.99 49.98) scale(1.0858 1)" font-size="32.41" font-weight="normal" fill="#000" stroke="#000" stroke-width="1.2" stroke-linejoin="round">4.3V C/3:C/3</text>
<text transform="translate(418.99 411.58) scale(1.0858 1)" font-size="32.41" font-weight="normal" fill="#000" stroke="#000" stroke-width="1.2" stroke-linejoin="round">4.3V C/3:C/3</text>
<text transform="translate(961.99 49.98) scale(1.0858 1)" font-size="32.41" font-weight="normal" fill="#000" stroke="#000" stroke-width="1.2" stroke-linejoin="round">4.3V C/3:C/3</text>
<text transform="translate(961.99 412.68) scale(1.0858 1)" font-size="32.41" font-weight="normal" fill="#000" stroke="#000" stroke-width="1.2" stroke-linejoin="round">4.3V C/3:C/3</text>
<text transform="translate(129.55 298.65) scale(1.0674 1)" font-size="28.18" font-weight="normal" fill="#000" stroke="#000" stroke-width="0.85" stroke-linejoin="round">64225 2VC+1DTD</text>
<text transform="translate(129.55 332.45) scale(1.0674 1)" font-size="28.18" font-weight="normal" fill="#22e022" stroke="#22e022" stroke-width="0.85" stroke-linejoin="round">64057 2VC+1DTD</text>
<text transform="translate(129.54 660.75) scale(1.0718 1)" font-size="28.18" font-weight="normal" fill="#000" stroke="#000" stroke-width="0.85" stroke-linejoin="round">64225 2VC+1DTD</text>
<text transform="translate(129.87 693.45) scale(1.0704 1)" font-size="28.18" font-weight="normal" fill="#ee1c1c" stroke="#ee1c1c" stroke-width="0.85" stroke-linejoin="round">54275 1VC+1DTD</text>
<text transform="translate(224.70 118.99) scale(1.0624 1)" font-size="26.98" font-weight="normal" fill="#22e022" stroke="#22e022" stroke-width="1.1" stroke-linejoin="round">55°C</text>
<text transform="translate(273.65 252.79) scale(1.1072 1)" font-size="26.98" font-weight="normal" fill="#22e022" stroke="#22e022" stroke-width="1.1" stroke-linejoin="round">20°C</text>
<text transform="translate(554.39 236.29) scale(1.1092 1)" font-size="26.13" font-weight="normal" fill="#000" stroke="#000" stroke-width="1.1" stroke-linejoin="round">20°C</text>
<text transform="translate(212.99 435.00) scale(1.1231 1)" font-size="25.56" font-weight="normal" fill="#ee1c1c" stroke="#ee1c1c" stroke-width="1.1" stroke-linejoin="round">40°C</text>
<text transform="translate(258.99 579.08) scale(1.0504 1)" font-size="27.68" font-weight="normal" fill="#ee1c1c" stroke="#ee1c1c" stroke-width="1.1" stroke-linejoin="round">20°C</text>
<text transform="translate(554.39 598.29) scale(1.1092 1)" font-size="26.13" font-weight="normal" fill="#000" stroke="#000" stroke-width="1.1" stroke-linejoin="round">20°C</text>
<text transform="translate(812.37 157.59) scale(1.1056 1)" font-size="26.55" font-weight="normal" fill="#22e022" stroke="#22e022" stroke-width="1.1" stroke-linejoin="round">20°C</text>
<text transform="translate(755.16 232.21) scale(1.2185 1)" font-size="24.43" font-weight="normal" fill="#22e022" stroke="#22e022" stroke-width="1.1" stroke-linejoin="round">55°C</text>
<text transform="translate(1100.36 140.00) scale(1.1556 1)" font-size="25.56" font-weight="normal" fill="#000" stroke="#000" stroke-width="1.1" stroke-linejoin="round">20°C</text>
<text transform="translate(793.48 469.38) scale(1.0591 1)" font-size="27.54" font-weight="normal" fill="#ee1c1c" stroke="#ee1c1c" stroke-width="1.1" stroke-linejoin="round">20°C</text>
<text transform="translate(735.99 574.30) scale(1.1348 1)" font-size="25.42" font-weight="normal" fill="#ee1c1c" stroke="#ee1c1c" stroke-width="1.1" stroke-linejoin="round">40°C</text>
<text transform="translate(1100.36 503.00) scale(1.1556 1)" font-size="25.56" font-weight="normal" fill="#000" stroke="#000" stroke-width="1.1" stroke-linejoin="round">20°C</text>
</svg>
</body></html>
